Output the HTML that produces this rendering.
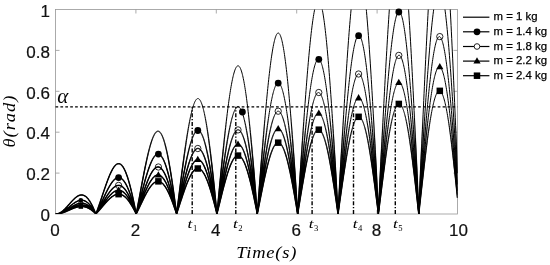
<!DOCTYPE html>
<html><head><meta charset="utf-8"><title>chart</title>
<style>
html,body{margin:0;padding:0;background:#fff}
body{width:550px;height:265px;overflow:hidden}
svg{display:block}
.tk{font-family:"Liberation Sans",sans-serif;font-size:17px;fill:#111;stroke:#111;stroke-width:0.2px}
.lg{font-family:"Liberation Sans",sans-serif;font-size:11px;fill:#000;stroke:#000;stroke-width:0.25px}
.sb{font-family:"Liberation Serif",serif;font-size:8.6px;fill:#000}
.it{font-family:"Liberation Serif","DejaVu Serif",serif;font-style:italic;fill:#000}
</style></head><body>
<svg width="550" height="265" viewBox="0 0 550 265">
<rect width="550" height="265" fill="#fff"/>
<defs><linearGradient id="gr" gradientUnits="userSpaceOnUse" x1="0" y1="111.8" x2="0" y2="169.0"><stop offset="0" stop-color="#000"/><stop offset="1" stop-color="#fff"/></linearGradient><mask id="mk" maskUnits="userSpaceOnUse" x="0" y="0" width="550" height="265"><rect width="550" height="265" fill="url(#gr)"/></mask><clipPath id="c"><rect x="55.5" y="9.5" width="402.0" height="204.5"/></clipPath></defs>
<g stroke="#969696" stroke-width="0.8" fill="none">
<rect x="55.5" y="9.5" width="402.0" height="204.5"/>
<path d="M135.9 214.0v-4M135.9 9.5v4"/>
<path d="M216.3 214.0v-4M216.3 9.5v4"/>
<path d="M296.7 214.0v-4M296.7 9.5v4"/>
<path d="M377.1 214.0v-4M377.1 9.5v4"/>
<path d="M55.5 173.1h4M457.5 173.1h-4"/>
<path d="M55.5 132.2h4M457.5 132.2h-4"/>
<path d="M55.5 91.3h4M457.5 91.3h-4"/>
<path d="M55.5 50.4h4M457.5 50.4h-4"/>
</g>
<g clip-path="url(#c)" stroke="#000" stroke-width="1.0" fill="none" stroke-linejoin="miter">
<path id="cv" d="M55.50 214.00L55.82 213.99L56.14 213.97L56.46 213.94L56.79 213.90L57.11 213.84L57.43 213.76L57.75 213.68L58.07 213.58L58.39 213.47L58.72 213.35L59.04 213.22L59.36 213.07L59.68 212.91L60.00 212.74L60.32 212.56L60.65 212.37L60.97 212.16L61.29 211.95L61.61 211.72L61.93 211.49L62.25 211.24L62.58 210.99L62.90 210.72L63.22 210.45L63.54 210.17L63.86 209.88L64.18 209.58L64.50 209.27L64.83 208.96L65.15 208.64L65.47 208.32L65.79 207.99L66.11 207.65L66.43 207.31L66.76 206.96L67.08 206.61L67.40 206.26L67.72 205.90L68.04 205.54L68.36 205.18L68.69 204.82L69.01 204.46L69.33 204.09L69.65 203.73L69.97 203.36L70.29 203.00L70.62 202.64L70.94 202.28L71.26 201.93L71.58 201.57L71.90 201.22L72.22 200.88L72.54 200.54L72.87 200.20L73.19 199.87L73.51 199.55L73.83 199.23L74.15 198.93L74.47 198.62L74.80 198.33L75.12 198.05L75.44 197.77L75.76 197.51L76.08 197.26L76.40 197.01L76.73 196.78L77.05 196.56L77.37 196.35L77.69 196.16L78.01 195.98L78.33 195.81L78.66 195.66L78.98 195.52L79.30 195.39L79.62 195.28L79.94 195.19L80.26 195.11L80.58 195.05L80.91 195.01L81.23 194.98L81.55 194.97L81.87 194.98L82.19 195.01L82.51 195.05L82.84 195.11L83.16 195.19L83.48 195.30L83.80 195.42L84.12 195.55L84.44 195.71L84.77 195.89L85.09 196.09L85.41 196.31L85.73 196.55L86.05 196.81L86.37 197.08L86.70 197.38L87.02 197.70L87.34 198.04L87.66 198.40L87.98 198.78L88.30 199.18L88.62 199.60L88.95 200.05L89.27 200.51L89.59 200.99L89.91 201.49L90.23 202.01L90.55 202.55L90.88 203.11L91.20 203.68L91.52 204.28L91.84 204.89L92.16 205.53L92.48 206.18L92.81 206.85L93.13 207.53L93.45 208.24L93.77 208.95L94.09 209.69L94.41 210.44L94.74 211.21L95.06 211.99L95.38 212.78L95.70 213.59L95.86 214.00L96.02 213.59L96.34 212.75L96.66 211.90L96.99 211.05L97.31 210.17L97.63 209.29L97.95 208.40L98.27 207.50L98.59 206.59L98.92 205.68L99.24 204.75L99.56 203.82L99.88 202.88L100.20 201.94L100.52 200.99L100.85 200.04L101.17 199.08L101.49 198.12L101.81 197.16L102.13 196.20L102.45 195.24L102.78 194.28L103.10 193.32L103.42 192.36L103.74 191.40L104.06 190.45L104.38 189.50L104.70 188.56L105.03 187.62L105.35 186.69L105.67 185.76L105.99 184.85L106.31 183.94L106.63 183.05L106.96 182.16L107.28 181.29L107.60 180.43L107.92 179.58L108.24 178.74L108.56 177.92L108.89 177.12L109.21 176.33L109.53 175.55L109.85 174.80L110.17 174.06L110.49 173.35L110.82 172.65L111.14 171.98L111.46 171.32L111.78 170.69L112.10 170.08L112.42 169.49L112.74 168.93L113.07 168.40L113.39 167.88L113.71 167.40L114.03 166.94L114.35 166.51L114.67 166.11L115.00 165.73L115.32 165.39L115.64 165.07L115.96 164.79L116.28 164.54L116.60 164.31L116.93 164.12L117.25 163.96L117.57 163.84L117.89 163.74L118.21 163.68L118.53 163.66L118.86 163.67L119.18 163.71L119.50 163.78L119.82 163.90L120.14 164.04L120.46 164.23L120.78 164.44L121.11 164.70L121.43 164.99L121.75 165.31L122.07 165.68L122.39 166.07L122.71 166.51L123.04 166.98L123.36 167.49L123.68 168.03L124.00 168.61L124.32 169.22L124.64 169.87L124.97 170.56L125.29 171.28L125.61 172.04L125.93 172.84L126.25 173.66L126.57 174.53L126.90 175.42L127.22 176.35L127.54 177.32L127.86 178.32L128.18 179.35L128.50 180.41L128.82 181.51L129.15 182.63L129.47 183.79L129.79 184.98L130.11 186.19L130.43 187.44L130.75 188.71L131.08 190.02L131.40 191.35L131.72 192.70L132.04 194.08L132.36 195.49L132.68 196.92L133.01 198.37L133.33 199.85L133.65 201.35L133.97 202.87L134.29 204.40L134.61 205.96L134.94 207.54L135.26 209.13L135.58 210.74L135.90 212.36L136.22 214.00L136.54 212.35L136.86 210.69L137.19 209.01L137.51 207.33L137.83 205.63L138.15 203.93L138.47 202.23L138.79 200.51L139.12 198.80L139.44 197.08L139.76 195.35L140.08 193.63L140.40 191.91L140.72 190.18L141.05 188.47L141.37 186.75L141.69 185.04L142.01 183.34L142.33 181.64L142.65 179.95L142.98 178.27L143.30 176.60L143.62 174.95L143.94 173.31L144.26 171.68L144.58 170.07L144.90 168.48L145.23 166.90L145.55 165.35L145.87 163.81L146.19 162.30L146.51 160.81L146.83 159.34L147.16 157.90L147.48 156.48L147.80 155.10L148.12 153.74L148.44 152.41L148.76 151.11L149.09 149.85L149.41 148.62L149.73 147.42L150.05 146.26L150.37 145.13L150.69 144.04L151.02 142.99L151.34 141.98L151.66 141.01L151.98 140.08L152.30 139.19L152.62 138.34L152.94 137.54L153.27 136.78L153.59 136.07L153.91 135.40L154.23 134.78L154.55 134.21L154.87 133.69L155.20 133.21L155.52 132.79L155.84 132.41L156.16 132.08L156.48 131.81L156.80 131.59L157.13 131.42L157.45 131.30L157.77 131.23L158.09 131.22L158.41 131.26L158.73 131.36L159.06 131.50L159.38 131.71L159.70 131.97L160.02 132.28L160.34 132.65L160.66 133.07L160.98 133.55L161.31 134.08L161.63 134.67L161.95 135.31L162.27 136.01L162.59 136.76L162.91 137.57L163.24 138.43L163.56 139.34L163.88 140.31L164.20 141.33L164.52 142.41L164.84 143.53L165.17 144.71L165.49 145.95L165.81 147.23L166.13 148.56L166.45 149.94L166.77 151.38L167.10 152.86L167.42 154.39L167.74 155.96L168.06 157.59L168.38 159.25L168.70 160.97L169.02 162.72L169.35 164.53L169.67 166.37L169.99 168.25L170.31 170.17L170.63 172.14L170.95 174.14L171.28 176.18L171.60 178.25L171.92 180.36L172.24 182.50L172.56 184.67L172.88 186.87L173.21 189.11L173.53 191.37L173.85 193.66L174.17 195.97L174.49 198.31L174.81 200.67L175.14 203.05L175.46 205.46L175.78 207.88L176.10 210.32L176.42 212.77L176.58 214.00L176.74 212.76L177.06 210.29L177.39 207.80L177.71 205.30L178.03 202.79L178.35 200.28L178.67 197.76L178.99 195.24L179.32 192.72L179.64 190.20L179.96 187.68L180.28 185.16L180.60 182.66L180.92 180.15L181.25 177.66L181.57 175.18L181.89 172.71L182.21 170.25L182.53 167.81L182.85 165.39L183.18 162.98L183.50 160.60L183.82 158.24L184.14 155.90L184.46 153.59L184.78 151.30L185.10 149.04L185.43 146.82L185.75 144.62L186.07 142.46L186.39 140.34L186.71 138.25L187.03 136.20L187.36 134.18L187.68 132.21L188.00 130.29L188.32 128.40L188.64 126.57L188.96 124.78L189.29 123.04L189.61 121.34L189.93 119.70L190.25 118.11L190.57 116.58L190.89 115.10L191.22 113.68L191.54 112.31L191.86 111.00L192.18 109.76L192.50 108.57L192.82 107.44L193.14 106.38L193.47 105.38L193.79 104.45L194.11 103.58L194.43 102.78L194.75 102.04L195.07 101.38L195.40 100.78L195.72 100.25L196.04 99.79L196.36 99.41L196.68 99.09L197.00 98.85L197.33 98.67L197.65 98.58L197.97 98.55L198.29 98.60L198.61 98.72L198.93 98.92L199.26 99.19L199.58 99.53L199.90 99.95L200.22 100.45L200.54 101.02L200.86 101.66L201.18 102.38L201.51 103.17L201.83 104.04L202.15 104.98L202.47 105.99L202.79 107.08L203.11 108.24L203.44 109.47L203.76 110.78L204.08 112.15L204.40 113.60L204.72 115.12L205.04 116.70L205.37 118.36L205.69 120.08L206.01 121.88L206.33 123.73L206.65 125.66L206.97 127.64L207.30 129.69L207.62 131.81L207.94 133.98L208.26 136.22L208.58 138.51L208.90 140.86L209.22 143.27L209.55 145.73L209.87 148.25L210.19 150.82L210.51 153.44L210.83 156.11L211.15 158.83L211.48 161.59L211.80 164.40L212.12 167.25L212.44 170.14L212.76 173.08L213.08 176.05L213.41 179.06L213.73 182.10L214.05 185.17L214.37 188.28L214.69 191.41L215.01 194.57L215.34 197.76L215.66 200.97L215.98 204.20L216.30 207.45L216.62 210.72L216.94 214.00L217.26 210.70L217.59 207.40L217.91 204.08L218.23 200.76L218.55 197.43L218.87 194.10L219.19 190.77L219.52 187.44L219.84 184.12L220.16 180.80L220.48 177.49L220.80 174.19L221.12 170.90L221.45 167.63L221.77 164.37L222.09 161.13L222.41 157.92L222.73 154.72L223.05 151.55L223.38 148.41L223.70 145.30L224.02 142.22L224.34 139.18L224.66 136.17L224.98 133.20L225.30 130.26L225.63 127.37L225.95 124.53L226.27 121.73L226.59 118.98L226.91 116.28L227.23 113.63L227.56 111.03L227.88 108.49L228.20 106.01L228.52 103.58L228.84 101.22L229.16 98.92L229.49 96.69L229.81 94.52L230.13 92.42L230.45 90.38L230.77 88.42L231.09 86.53L231.42 84.72L231.74 82.98L232.06 81.32L232.38 79.73L232.70 78.23L233.02 76.81L233.34 75.46L233.67 74.20L233.99 73.03L234.31 71.94L234.63 70.93L234.95 70.02L235.27 69.19L235.60 68.45L235.92 67.80L236.24 67.24L236.56 66.77L236.88 66.39L237.20 66.11L237.53 65.92L237.85 65.82L238.17 65.81L238.49 65.90L238.81 66.08L239.13 66.36L239.46 66.73L239.78 67.20L240.10 67.76L240.42 68.42L240.74 69.17L241.06 70.01L241.38 70.95L241.71 71.98L242.03 73.11L242.35 74.33L242.67 75.64L242.99 77.04L243.31 78.54L243.64 80.13L243.96 81.80L244.28 83.57L244.60 85.43L244.92 87.37L245.24 89.40L245.57 91.51L245.89 93.71L246.21 96.00L246.53 98.37L246.85 100.81L247.17 103.34L247.50 105.95L247.82 108.63L248.14 111.39L248.46 114.22L248.78 117.13L249.10 120.11L249.42 123.15L249.75 126.27L250.07 129.45L250.39 132.69L250.71 136.00L251.03 139.36L251.35 142.79L251.68 146.27L252.00 149.80L252.32 153.39L252.64 157.03L252.96 160.71L253.28 164.45L253.61 168.22L253.93 172.04L254.25 175.89L254.57 179.78L254.89 183.71L255.21 187.67L255.54 191.65L255.86 195.67L256.18 199.71L256.50 203.77L256.82 207.85L257.14 211.95L257.30 214.00L257.46 211.94L257.79 207.82L258.11 203.69L258.43 199.55L258.75 195.40L259.07 191.26L259.39 187.12L259.72 182.98L260.04 178.84L260.36 174.72L260.68 170.61L261.00 166.51L261.32 162.43L261.65 158.37L261.97 154.33L262.29 150.32L262.61 146.34L262.93 142.38L263.25 138.46L263.58 134.57L263.90 130.73L264.22 126.92L264.54 123.16L264.86 119.44L265.18 115.77L265.50 112.15L265.83 108.59L266.15 105.08L266.47 101.62L266.79 98.23L267.11 94.91L267.43 91.64L267.76 88.45L268.08 85.32L268.40 82.27L268.72 79.29L269.04 76.38L269.36 73.56L269.69 70.81L270.01 68.15L270.33 65.57L270.65 63.08L270.97 60.67L271.29 58.36L271.62 56.14L271.94 54.01L272.26 51.97L272.58 50.03L272.90 48.19L273.22 46.45L273.54 44.81L273.87 43.27L274.19 41.83L274.51 40.50L274.83 39.27L275.15 38.15L275.47 37.14L275.80 36.24L276.12 35.45L276.44 34.77L276.76 34.19L277.08 33.74L277.40 33.39L277.73 33.16L278.05 33.04L278.37 33.03L278.69 33.14L279.01 33.36L279.33 33.70L279.66 34.15L279.98 34.72L280.30 35.40L280.62 36.20L280.94 37.11L281.26 38.14L281.58 39.28L281.91 40.53L282.23 41.90L282.55 43.38L282.87 44.97L283.19 46.67L283.51 48.48L283.84 50.40L284.16 52.44L284.48 54.58L284.80 56.82L285.12 59.17L285.44 61.63L285.77 64.19L286.09 66.85L286.41 69.61L286.73 72.47L287.05 75.42L287.37 78.48L287.70 81.62L288.02 84.86L288.34 88.19L288.66 91.61L288.98 95.12L289.30 98.70L289.62 102.38L289.95 106.13L290.27 109.96L290.59 113.87L290.91 117.85L291.23 121.90L291.55 126.02L291.88 130.21L292.20 134.47L292.52 138.78L292.84 143.16L293.16 147.59L293.48 152.07L293.81 156.61L294.13 161.19L294.45 165.82L294.77 170.49L295.09 175.21L295.41 179.96L295.74 184.74L296.06 189.56L296.38 194.40L296.70 199.27L297.02 204.16L297.34 209.07L297.66 214.00L297.99 209.06L298.31 204.11L298.63 199.15L298.95 194.19L299.27 189.23L299.59 184.27L299.92 179.32L300.24 174.37L300.56 169.44L300.88 164.52L301.20 159.63L301.52 154.75L301.85 149.90L302.17 145.07L302.49 140.28L302.81 135.52L303.13 130.79L303.45 126.11L303.78 121.47L304.10 116.88L304.42 112.33L304.74 107.84L305.06 103.41L305.38 99.03L305.70 94.71L306.03 90.46L306.35 86.27L306.67 82.16L306.99 78.11L307.31 74.15L307.63 70.26L307.96 66.45L308.28 62.72L308.60 59.08L308.92 55.53L309.24 52.07L309.56 48.70L309.89 45.43L310.21 42.26L310.53 39.18L310.85 36.21L311.17 33.35L311.49 30.59L311.82 27.94L312.14 25.40L312.46 22.97L312.78 20.66L313.10 18.46L313.42 16.38L313.74 14.42L314.07 12.58L314.39 10.87L314.71 9.27L315.03 7.81L315.35 6.47L315.67 5.25L316.00 4.17L316.32 3.21L316.64 2.39L316.96 1.69L317.28 1.13L317.60 0.70L317.93 0.41L318.25 0.25L318.57 0.22L318.89 0.33L319.21 0.57L319.53 0.95L319.86 1.46L320.18 2.11L320.50 2.89L320.82 3.81L321.14 4.86L321.46 6.05L321.78 7.37L322.11 8.83L322.43 10.42L322.75 12.14L323.07 13.99L323.39 15.97L323.71 18.08L324.04 20.32L324.36 22.69L324.68 25.18L325.00 27.80L325.32 30.54L325.64 33.41L325.97 36.39L326.29 39.49L326.61 42.72L326.93 46.05L327.25 49.50L327.57 53.06L327.90 56.74L328.22 60.52L328.54 64.40L328.86 68.39L329.18 72.48L329.50 76.67L329.82 80.96L330.15 85.34L330.47 89.81L330.79 94.37L331.11 99.01L331.43 103.74L331.75 108.55L332.08 113.44L332.40 118.40L332.72 123.43L333.04 128.53L333.36 133.70L333.68 138.93L334.01 144.22L334.33 149.57L334.65 154.97L334.97 160.41L335.29 165.91L335.61 171.45L335.94 177.02L336.26 182.64L336.58 188.28L336.90 193.96L337.22 199.66L337.54 205.38L337.86 211.12L338.03 214.00L338.19 211.12L338.51 205.35L338.83 199.58L339.15 193.80L339.47 188.02L339.79 182.24L340.12 176.47L340.44 170.71L340.76 164.97L341.08 159.24L341.40 153.54L341.72 147.86L342.05 142.21L342.37 136.59L342.69 131.01L343.01 125.46L343.33 119.96L343.65 114.51L343.98 109.11L344.30 103.76L344.62 98.47L344.94 93.24L345.26 88.08L345.58 82.98L345.90 77.95L346.23 73.00L346.55 68.13L346.87 63.34L347.19 58.63L347.51 54.01L347.83 49.48L348.16 45.04L348.48 40.70L348.80 36.46L349.12 32.32L349.44 28.29L349.76 24.36L350.09 20.55L350.41 16.85L350.73 13.27L351.05 9.80L351.37 6.46L351.69 3.24L352.02 0.14L352.34 -2.83L352.66 -5.67L352.98 -8.37L353.30 -10.94L353.62 -13.38L353.94 -15.67L354.27 -17.83L354.59 -19.85L354.91 -21.72L355.23 -23.45L355.55 -25.03L355.87 -26.47L356.20 -27.76L356.52 -28.89L356.84 -29.88L357.16 -30.72L357.48 -31.40L357.80 -31.93L358.13 -32.31L358.45 -32.53L358.77 -32.60L359.09 -32.52L359.41 -32.27L359.73 -31.88L360.06 -31.32L360.38 -30.61L360.70 -29.75L361.02 -28.73L361.34 -27.56L361.66 -26.23L361.98 -24.74L362.31 -23.11L362.63 -21.32L362.95 -19.38L363.27 -17.29L363.59 -15.04L363.91 -12.65L364.24 -10.11L364.56 -7.43L364.88 -4.60L365.20 -1.63L365.52 1.49L365.84 4.74L366.17 8.14L366.49 11.67L366.81 15.33L367.13 19.13L367.45 23.06L367.77 27.12L368.10 31.30L368.42 35.60L368.74 40.03L369.06 44.58L369.38 49.24L369.70 54.01L370.02 58.90L370.35 63.89L370.67 68.99L370.99 74.19L371.31 79.49L371.63 84.88L371.95 90.37L372.28 95.94L372.60 101.60L372.92 107.34L373.24 113.16L373.56 119.06L373.88 125.03L374.21 131.07L374.53 137.17L374.85 143.33L375.17 149.55L375.49 155.82L375.81 162.14L376.14 168.50L376.46 174.91L376.78 181.36L377.10 187.83L377.42 194.34L377.74 200.87L378.06 207.43L378.39 214.00L378.71 207.42L379.03 200.82L379.35 194.22L379.67 187.62L379.99 181.03L380.32 174.44L380.64 167.86L380.96 161.30L381.28 154.76L381.60 148.25L381.92 141.76L382.25 135.31L382.57 128.89L382.89 122.51L383.21 116.18L383.53 109.90L383.85 103.67L384.18 97.50L384.50 91.39L384.82 85.34L385.14 79.36L385.46 73.46L385.78 67.63L386.10 61.89L386.43 56.23L386.75 50.65L387.07 45.17L387.39 39.78L387.71 34.50L388.03 29.31L388.36 24.24L388.68 19.27L389.00 14.41L389.32 9.67L389.64 5.05L389.96 0.56L390.29 -3.82L390.61 -8.06L390.93 -12.17L391.25 -16.15L391.57 -19.99L391.89 -23.69L392.22 -27.25L392.54 -30.66L392.86 -33.92L393.18 -37.04L393.50 -40.00L393.82 -42.81L394.14 -45.47L394.47 -47.96L394.79 -50.30L395.11 -52.47L395.43 -54.48L395.75 -56.33L396.07 -58.00L396.40 -59.51L396.72 -60.86L397.04 -62.03L397.36 -63.03L397.68 -63.85L398.00 -64.51L398.33 -64.99L398.65 -65.29L398.97 -65.42L399.29 -65.38L399.61 -65.16L399.93 -64.76L400.26 -64.19L400.58 -63.44L400.90 -62.51L401.22 -61.41L401.54 -60.14L401.86 -58.69L402.18 -57.06L402.51 -55.26L402.83 -53.29L403.15 -51.15L403.47 -48.84L403.79 -46.35L404.11 -43.70L404.44 -40.88L404.76 -37.90L405.08 -34.75L405.40 -31.44L405.72 -27.97L406.04 -24.34L406.37 -20.56L406.69 -16.62L407.01 -12.53L407.33 -8.28L407.65 -3.89L407.97 0.64L408.30 5.32L408.62 10.13L408.94 15.09L409.26 20.18L409.58 25.39L409.90 30.74L410.22 36.21L410.55 41.81L410.87 47.52L411.19 53.35L411.51 59.29L411.83 65.33L412.15 71.48L412.48 77.74L412.80 84.09L413.12 90.53L413.44 97.06L413.76 103.67L414.08 110.37L414.41 117.15L414.73 124.00L415.05 130.91L415.37 137.89L415.69 144.94L416.01 152.03L416.34 159.18L416.66 166.38L416.98 173.62L417.30 180.90L417.62 188.21L417.94 195.55L418.26 202.92L418.59 210.30L418.75 214.00L418.91 210.30L419.23 202.89L419.55 195.47L419.87 188.05L420.19 180.63L420.52 173.22L420.84 165.83L421.16 158.45L421.48 151.09L421.80 143.76L422.12 136.47L422.45 129.20L422.77 121.98L423.09 114.80L423.41 107.68L423.73 100.60L424.05 93.59L424.38 86.64L424.70 79.76L425.02 72.95L425.34 66.22L425.66 59.56L425.98 53.00L426.30 46.52L426.63 40.14L426.95 33.85L427.27 27.67L427.59 21.60L427.91 15.63L428.23 9.78L428.56 4.05L428.88 -1.56L429.20 -7.05L429.52 -12.40L429.84 -17.63L430.16 -22.71L430.49 -27.66L430.81 -32.46L431.13 -37.11L431.45 -41.62L431.77 -45.97L432.09 -50.17L432.42 -54.20L432.74 -58.08L433.06 -61.79L433.38 -65.34L433.70 -68.71L434.02 -71.91L434.34 -74.94L434.67 -77.79L434.99 -80.47L435.31 -82.96L435.63 -85.27L435.95 -87.40L436.27 -89.34L436.60 -91.09L436.92 -92.66L437.24 -94.03L437.56 -95.21L437.88 -96.20L438.20 -97.00L438.53 -97.60L438.85 -98.01L439.17 -98.22L439.49 -98.24L439.81 -98.06L440.13 -97.69L440.46 -97.11L440.78 -96.35L441.10 -95.38L441.42 -94.22L441.74 -92.86L442.06 -91.31L442.38 -89.56L442.71 -87.62L443.03 -85.49L443.35 -83.17L443.67 -80.65L443.99 -77.95L444.31 -75.05L444.64 -71.97L444.96 -68.71L445.28 -65.26L445.60 -61.64L445.92 -57.83L446.24 -53.84L446.57 -49.68L446.89 -45.35L447.21 -40.85L447.53 -36.18L447.85 -31.35L448.17 -26.35L448.50 -21.19L448.82 -15.88L449.14 -10.42L449.46 -4.80L449.78 0.96L450.10 6.87L450.42 12.91L450.75 19.09L451.07 25.41L451.39 31.85L451.71 38.42L452.03 45.11L452.35 51.91L452.68 58.83L453.00 65.86L453.32 72.99L453.64 80.22L453.96 87.55L454.28 94.97L454.61 102.47L454.93 110.06L455.25 117.73L455.57 125.46L455.89 133.27L456.21 141.14L456.54 149.07L456.86 157.05L457.18 165.08L457.50 173.15M55.50 214.00L55.82 214.00L56.14 213.98L56.46 213.96L56.79 213.92L57.11 213.88L57.43 213.83L57.75 213.77L58.07 213.70L58.39 213.62L58.72 213.53L59.04 213.43L59.36 213.33L59.68 213.21L60.00 213.09L60.32 212.96L60.65 212.82L60.97 212.67L61.29 212.51L61.61 212.35L61.93 212.18L62.25 212.00L62.58 211.82L62.90 211.63L63.22 211.43L63.54 211.23L63.86 211.02L64.18 210.80L64.50 210.58L64.83 210.35L65.15 210.12L65.47 209.89L65.79 209.65L66.11 209.40L66.43 209.16L66.76 208.91L67.08 208.65L67.40 208.40L67.72 208.14L68.04 207.88L68.36 207.62L68.69 207.36L69.01 207.09L69.33 206.83L69.65 206.57L69.97 206.30L70.29 206.04L70.62 205.78L70.94 205.52L71.26 205.26L71.58 205.01L71.90 204.75L72.22 204.50L72.54 204.26L72.87 204.01L73.19 203.78L73.51 203.54L73.83 203.31L74.15 203.09L74.47 202.87L74.80 202.66L75.12 202.45L75.44 202.26L75.76 202.06L76.08 201.88L76.40 201.71L76.73 201.54L77.05 201.38L77.37 201.23L77.69 201.09L78.01 200.96L78.33 200.83L78.66 200.72L78.98 200.62L79.30 200.53L79.62 200.45L79.94 200.39L80.26 200.33L80.58 200.29L80.91 200.25L81.23 200.24L81.55 200.23L81.87 200.23L82.19 200.25L82.51 200.29L82.84 200.33L83.16 200.39L83.48 200.46L83.80 200.55L84.12 200.65L84.44 200.77L84.77 200.89L85.09 201.04L85.41 201.20L85.73 201.37L86.05 201.56L86.37 201.76L86.70 201.97L87.02 202.21L87.34 202.45L87.66 202.71L87.98 202.99L88.30 203.28L88.62 203.58L88.95 203.90L89.27 204.23L89.59 204.58L89.91 204.94L90.23 205.32L90.55 205.71L90.88 206.12L91.20 206.53L91.52 206.97L91.84 207.41L92.16 207.87L92.48 208.34L92.81 208.82L93.13 209.32L93.45 209.83L93.77 210.35L94.09 210.88L94.41 211.42L94.74 211.98L95.06 212.54L95.38 213.12L95.70 213.70L95.86 214.00L96.02 213.70L96.34 213.10L96.66 212.48L96.99 211.86L97.31 211.23L97.63 210.59L97.95 209.95L98.27 209.30L98.59 208.64L98.92 207.98L99.24 207.31L99.56 206.63L99.88 205.95L100.20 205.27L100.52 204.58L100.85 203.89L101.17 203.20L101.49 202.51L101.81 201.81L102.13 201.12L102.45 200.42L102.78 199.72L103.10 199.03L103.42 198.34L103.74 197.64L104.06 196.95L104.38 196.27L104.70 195.59L105.03 194.91L105.35 194.23L105.67 193.56L105.99 192.90L106.31 192.25L106.63 191.60L106.96 190.96L107.28 190.32L107.60 189.70L107.92 189.09L108.24 188.48L108.56 187.89L108.89 187.30L109.21 186.73L109.53 186.17L109.85 185.63L110.17 185.10L110.49 184.58L110.82 184.07L111.14 183.58L111.46 183.11L111.78 182.65L112.10 182.21L112.42 181.79L112.74 181.38L113.07 180.99L113.39 180.62L113.71 180.27L114.03 179.94L114.35 179.63L114.67 179.34L115.00 179.07L115.32 178.82L115.64 178.59L115.96 178.38L116.28 178.20L116.60 178.04L116.93 177.90L117.25 177.79L117.57 177.69L117.89 177.63L118.21 177.58L118.53 177.56L118.86 177.57L119.18 177.60L119.50 177.66L119.82 177.74L120.14 177.84L120.46 177.98L120.78 178.13L121.11 178.32L121.43 178.53L121.75 178.76L122.07 179.03L122.39 179.31L122.71 179.63L123.04 179.97L123.36 180.34L123.68 180.73L124.00 181.15L124.32 181.59L124.64 182.06L124.97 182.56L125.29 183.08L125.61 183.63L125.93 184.21L126.25 184.81L126.57 185.43L126.90 186.08L127.22 186.75L127.54 187.45L127.86 188.17L128.18 188.92L128.50 189.69L128.82 190.48L129.15 191.30L129.47 192.13L129.79 192.99L130.11 193.87L130.43 194.78L130.75 195.70L131.08 196.64L131.40 197.60L131.72 198.58L132.04 199.58L132.36 200.60L132.68 201.64L133.01 202.69L133.33 203.76L133.65 204.84L133.97 205.94L134.29 207.05L134.61 208.18L134.94 209.32L135.26 210.47L135.58 211.64L135.90 212.81L136.22 214.00L136.54 212.81L136.86 211.60L137.19 210.39L137.51 209.17L137.83 207.95L138.15 206.71L138.47 205.48L138.79 204.24L139.12 203.00L139.44 201.75L139.76 200.50L140.08 199.26L140.40 198.01L140.72 196.76L141.05 195.52L141.37 194.28L141.69 193.04L142.01 191.81L142.33 190.58L142.65 189.36L142.98 188.14L143.30 186.94L143.62 185.74L143.94 184.55L144.26 183.37L144.58 182.21L144.90 181.05L145.23 179.91L145.55 178.79L145.87 177.67L146.19 176.58L146.51 175.50L146.83 174.44L147.16 173.40L147.48 172.37L147.80 171.37L148.12 170.39L148.44 169.43L148.76 168.49L149.09 167.57L149.41 166.68L149.73 165.81L150.05 164.97L150.37 164.16L150.69 163.37L151.02 162.61L151.34 161.88L151.66 161.17L151.98 160.50L152.30 159.86L152.62 159.24L152.94 158.66L153.27 158.11L153.59 157.60L153.91 157.12L154.23 156.67L154.55 156.25L154.87 155.87L155.20 155.53L155.52 155.22L155.84 154.95L156.16 154.71L156.48 154.51L156.80 154.35L157.13 154.23L157.45 154.14L157.77 154.10L158.09 154.09L158.41 154.12L158.73 154.19L159.06 154.29L159.38 154.44L159.70 154.63L160.02 154.85L160.34 155.12L160.66 155.43L160.98 155.77L161.31 156.16L161.63 156.58L161.95 157.05L162.27 157.55L162.59 158.10L162.91 158.68L163.24 159.30L163.56 159.97L163.88 160.67L164.20 161.41L164.52 162.18L164.84 163.00L165.17 163.85L165.49 164.75L165.81 165.67L166.13 166.64L166.45 167.64L166.77 168.68L167.10 169.75L167.42 170.85L167.74 172.00L168.06 173.17L168.38 174.38L168.70 175.62L169.02 176.89L169.35 178.19L169.67 179.53L169.99 180.89L170.31 182.28L170.63 183.70L170.95 185.15L171.28 186.62L171.60 188.12L171.92 189.65L172.24 191.20L172.56 192.77L172.88 194.37L173.21 195.98L173.53 197.62L173.85 199.28L174.17 200.95L174.49 202.64L174.81 204.35L175.14 206.08L175.46 207.82L175.78 209.57L176.10 211.33L176.42 213.11L176.58 214.00L176.74 213.11L177.06 211.31L177.39 209.51L177.71 207.70L178.03 205.89L178.35 204.07L178.67 202.25L178.99 200.42L179.32 198.60L179.64 196.77L179.96 194.95L180.28 193.13L180.60 191.31L180.92 189.50L181.25 187.70L181.57 185.90L181.89 184.11L182.21 182.34L182.53 180.57L182.85 178.82L183.18 177.08L183.50 175.35L183.82 173.64L184.14 171.95L184.46 170.27L184.78 168.62L185.10 166.99L185.43 165.38L185.75 163.79L186.07 162.22L186.39 160.69L186.71 159.17L187.03 157.69L187.36 156.23L187.68 154.81L188.00 153.41L188.32 152.05L188.64 150.72L188.96 149.43L189.29 148.16L189.61 146.94L189.93 145.75L190.25 144.60L190.57 143.49L190.89 142.42L191.22 141.39L191.54 140.40L191.86 139.46L192.18 138.55L192.50 137.69L192.82 136.88L193.14 136.11L193.47 135.39L193.79 134.71L194.11 134.08L194.43 133.50L194.75 132.97L195.07 132.49L195.40 132.06L195.72 131.67L196.04 131.34L196.36 131.06L196.68 130.83L197.00 130.66L197.33 130.53L197.65 130.46L197.97 130.44L198.29 130.48L198.61 130.57L198.93 130.71L199.26 130.91L199.58 131.15L199.90 131.46L200.22 131.82L200.54 132.23L200.86 132.69L201.18 133.21L201.51 133.79L201.83 134.41L202.15 135.09L202.47 135.83L202.79 136.62L203.11 137.46L203.44 138.35L203.76 139.29L204.08 140.29L204.40 141.34L204.72 142.43L205.04 143.58L205.37 144.78L205.69 146.03L206.01 147.33L206.33 148.67L206.65 150.06L206.97 151.50L207.30 152.98L207.62 154.51L207.94 156.09L208.26 157.70L208.58 159.36L208.90 161.07L209.22 162.81L209.55 164.59L209.87 166.41L210.19 168.27L210.51 170.17L210.83 172.10L211.15 174.07L211.48 176.07L211.80 178.10L212.12 180.17L212.44 182.26L212.76 184.38L213.08 186.53L213.41 188.71L213.73 190.91L214.05 193.14L214.37 195.38L214.69 197.65L215.01 199.94L215.34 202.25L215.66 204.57L215.98 206.91L216.30 209.26L216.62 211.62L216.94 214.00L217.26 211.61L217.59 209.22L217.91 206.82L218.23 204.42L218.55 202.01L218.87 199.60L219.19 197.19L219.52 194.78L219.84 192.37L220.16 189.97L220.48 187.58L220.80 185.19L221.12 182.81L221.45 180.44L221.77 178.08L222.09 175.74L222.41 173.41L222.73 171.10L223.05 168.81L223.38 166.53L223.70 164.28L224.02 162.05L224.34 159.85L224.66 157.67L224.98 155.52L225.30 153.40L225.63 151.30L225.95 149.25L226.27 147.22L226.59 145.23L226.91 143.27L227.23 141.35L227.56 139.48L227.88 137.64L228.20 135.84L228.52 134.09L228.84 132.38L229.16 130.71L229.49 129.09L229.81 127.52L230.13 126.00L230.45 124.53L230.77 123.11L231.09 121.75L231.42 120.43L231.74 119.18L232.06 117.97L232.38 116.83L232.70 115.74L233.02 114.71L233.34 113.73L233.67 112.82L233.99 111.97L234.31 111.18L234.63 110.46L234.95 109.79L235.27 109.19L235.60 108.66L235.92 108.19L236.24 107.78L236.56 107.44L236.88 107.17L237.20 106.96L237.53 106.82L237.85 106.75L238.17 106.75L238.49 106.81L238.81 106.95L239.13 107.15L239.46 107.42L239.78 107.75L240.10 108.16L240.42 108.63L240.74 109.18L241.06 109.79L241.38 110.47L241.71 111.21L242.03 112.03L242.35 112.91L242.67 113.86L242.99 114.88L243.31 115.96L243.64 117.11L243.96 118.32L244.28 119.60L244.60 120.94L244.92 122.35L245.24 123.82L245.57 125.35L245.89 126.94L246.21 128.60L246.53 130.31L246.85 132.08L247.17 133.91L247.50 135.80L247.82 137.74L248.14 139.74L248.46 141.79L248.78 143.89L249.10 146.04L249.42 148.25L249.75 150.50L250.07 152.80L250.39 155.15L250.71 157.54L251.03 159.98L251.35 162.46L251.68 164.98L252.00 167.54L252.32 170.13L252.64 172.77L252.96 175.43L253.28 178.13L253.61 180.87L253.93 183.63L254.25 186.42L254.57 189.24L254.89 192.08L255.21 194.94L255.54 197.83L255.86 200.73L256.18 203.66L256.50 206.59L256.82 209.55L257.14 212.51L257.30 214.00L257.46 212.51L257.79 209.53L258.11 206.54L258.43 203.54L258.75 200.54L259.07 197.54L259.39 194.54L259.72 191.55L260.04 188.56L260.36 185.57L260.68 182.60L261.00 179.63L261.32 176.68L261.65 173.74L261.97 170.82L262.29 167.91L262.61 165.03L262.93 162.17L263.25 159.33L263.58 156.52L263.90 153.73L264.22 150.98L264.54 148.25L264.86 145.56L265.18 142.91L265.50 140.29L265.83 137.71L266.15 135.17L266.47 132.67L266.79 130.21L267.11 127.81L267.43 125.44L267.76 123.13L268.08 120.87L268.40 118.66L268.72 116.50L269.04 114.40L269.36 112.36L269.69 110.37L270.01 108.44L270.33 106.58L270.65 104.77L270.97 103.03L271.29 101.36L271.62 99.75L271.94 98.20L272.26 96.73L272.58 95.33L272.90 93.99L273.22 92.73L273.54 91.55L273.87 90.43L274.19 89.39L274.51 88.43L274.83 87.54L275.15 86.73L275.47 86.00L275.80 85.35L276.12 84.77L276.44 84.28L276.76 83.87L277.08 83.53L277.40 83.28L277.73 83.11L278.05 83.03L278.37 83.02L278.69 83.10L279.01 83.26L279.33 83.51L279.66 83.83L279.98 84.25L280.30 84.74L280.62 85.32L280.94 85.98L281.26 86.72L281.58 87.54L281.91 88.45L282.23 89.44L282.55 90.51L282.87 91.66L283.19 92.89L283.51 94.21L283.84 95.60L284.16 97.07L284.48 98.62L284.80 100.24L285.12 101.94L285.44 103.72L285.77 105.57L286.09 107.50L286.41 109.50L286.73 111.57L287.05 113.71L287.37 115.92L287.70 118.19L288.02 120.54L288.34 122.95L288.66 125.42L288.98 127.96L289.30 130.56L289.62 133.21L289.95 135.93L290.27 138.70L290.59 141.53L290.91 144.41L291.23 147.34L291.55 150.33L291.88 153.36L292.20 156.44L292.52 159.56L292.84 162.73L293.16 165.93L293.48 169.18L293.81 172.46L294.13 175.78L294.45 179.13L294.77 182.51L295.09 185.92L295.41 189.36L295.74 192.82L296.06 196.31L296.38 199.82L296.70 203.34L297.02 206.88L297.34 210.43L297.66 214.00L297.99 210.42L298.31 206.84L298.63 203.25L298.95 199.66L299.27 196.07L299.59 192.48L299.92 188.90L300.24 185.32L300.56 181.75L300.88 178.19L301.20 174.65L301.52 171.12L301.85 167.60L302.17 164.11L302.49 160.64L302.81 157.20L303.13 153.78L303.45 150.39L303.78 147.03L304.10 143.71L304.42 140.42L304.74 137.17L305.06 133.96L305.38 130.79L305.70 127.66L306.03 124.59L306.35 121.56L306.67 118.58L306.99 115.65L307.31 112.78L307.63 109.97L307.96 107.21L308.28 104.51L308.60 101.88L308.92 99.31L309.24 96.80L309.56 94.37L309.89 92.00L310.21 89.70L310.53 87.48L310.85 85.33L311.17 83.25L311.49 81.26L311.82 79.34L312.14 77.50L312.46 75.74L312.78 74.07L313.10 72.48L313.42 70.97L313.74 69.56L314.07 68.22L314.39 66.98L314.71 65.83L315.03 64.77L315.35 63.80L315.67 62.92L316.00 62.13L316.32 61.44L316.64 60.84L316.96 60.34L317.28 59.94L317.60 59.63L317.93 59.41L318.25 59.30L318.57 59.28L318.89 59.35L319.21 59.53L319.53 59.80L319.86 60.18L320.18 60.64L320.50 61.21L320.82 61.88L321.14 62.64L321.46 63.50L321.78 64.45L322.11 65.51L322.43 66.66L322.75 67.90L323.07 69.24L323.39 70.67L323.71 72.20L324.04 73.82L324.36 75.54L324.68 77.34L325.00 79.24L325.32 81.22L325.64 83.29L325.97 85.45L326.29 87.70L326.61 90.03L326.93 92.45L327.25 94.94L327.57 97.52L327.90 100.18L328.22 102.92L328.54 105.73L328.86 108.62L329.18 111.58L329.50 114.61L329.82 117.71L330.15 120.88L330.47 124.11L330.79 127.41L331.11 130.78L331.43 134.20L331.75 137.68L332.08 141.22L332.40 144.81L332.72 148.45L333.04 152.14L333.36 155.88L333.68 159.67L334.01 163.50L334.33 167.37L334.65 171.27L334.97 175.22L335.29 179.19L335.61 183.20L335.94 187.24L336.26 191.30L336.58 195.39L336.90 199.49L337.22 203.62L337.54 207.76L337.86 211.92L338.03 214.00L338.19 211.92L338.51 207.74L338.83 203.56L339.15 199.38L339.47 195.20L339.79 191.02L340.12 186.84L340.44 182.67L340.76 178.51L341.08 174.37L341.40 170.24L341.72 166.13L342.05 162.04L342.37 157.97L342.69 153.93L343.01 149.92L343.33 145.94L343.65 141.99L343.98 138.09L344.30 134.21L344.62 130.39L344.94 126.60L345.26 122.86L345.58 119.17L345.90 115.54L346.23 111.95L346.55 108.43L346.87 104.96L347.19 101.55L347.51 98.20L347.83 94.93L348.16 91.72L348.48 88.57L348.80 85.51L349.12 82.51L349.44 79.59L349.76 76.75L350.09 73.99L350.41 71.31L350.73 68.72L351.05 66.21L351.37 63.79L351.69 61.46L352.02 59.22L352.34 57.07L352.66 55.02L352.98 53.06L353.30 51.20L353.62 49.44L353.94 47.77L354.27 46.21L354.59 44.75L354.91 43.40L355.23 42.15L355.55 41.00L355.87 39.96L356.20 39.03L356.52 38.21L356.84 37.49L357.16 36.88L357.48 36.39L357.80 36.01L358.13 35.73L358.45 35.57L358.77 35.52L359.09 35.58L359.41 35.76L359.73 36.05L360.06 36.45L360.38 36.96L360.70 37.59L361.02 38.32L361.34 39.17L361.66 40.14L361.98 41.21L362.31 42.39L362.63 43.69L362.95 45.09L363.27 46.61L363.59 48.23L363.91 49.96L364.24 51.80L364.56 53.74L364.88 55.79L365.20 57.94L365.52 60.19L365.84 62.55L366.17 65.01L366.49 67.56L366.81 70.21L367.13 72.96L367.45 75.81L367.77 78.74L368.10 81.77L368.42 84.89L368.74 88.09L369.06 91.38L369.38 94.75L369.70 98.21L370.02 101.75L370.35 105.36L370.67 109.05L370.99 112.81L371.31 116.65L371.63 120.55L371.95 124.52L372.28 128.55L372.60 132.65L372.92 136.81L373.24 141.02L373.56 145.29L373.88 149.61L374.21 153.98L374.53 158.39L374.85 162.85L375.17 167.35L375.49 171.89L375.81 176.46L376.14 181.07L376.46 185.71L376.78 190.37L377.10 195.06L377.42 199.77L377.74 204.50L378.06 209.24L378.39 214.00L378.71 209.23L379.03 204.46L379.35 199.69L379.67 194.91L379.99 190.14L380.32 185.37L380.64 180.61L380.96 175.86L381.28 171.13L381.60 166.41L381.92 161.72L382.25 157.05L382.57 152.40L382.89 147.79L383.21 143.20L383.53 138.66L383.85 134.15L384.18 129.68L384.50 125.26L384.82 120.88L385.14 116.56L385.46 112.28L385.78 108.07L386.10 103.91L386.43 99.81L386.75 95.78L387.07 91.81L387.39 87.91L387.71 84.09L388.03 80.33L388.36 76.66L388.68 73.06L389.00 69.55L389.32 66.12L389.64 62.77L389.96 59.52L390.29 56.36L390.61 53.29L390.93 50.31L391.25 47.43L391.57 44.65L391.89 41.97L392.22 39.40L392.54 36.93L392.86 34.57L393.18 32.31L393.50 30.17L393.82 28.13L394.14 26.21L394.47 24.41L394.79 22.72L395.11 21.14L395.43 19.69L395.75 18.35L396.07 17.14L396.40 16.04L396.72 15.07L397.04 14.23L397.36 13.50L397.68 12.90L398.00 12.43L398.33 12.08L398.65 11.86L398.97 11.77L399.29 11.80L399.61 11.96L399.93 12.25L400.26 12.66L400.58 13.20L400.90 13.87L401.22 14.67L401.54 15.59L401.86 16.64L402.18 17.82L402.51 19.12L402.83 20.55L403.15 22.10L403.47 23.77L403.79 25.57L404.11 27.49L404.44 29.53L404.76 31.69L405.08 33.97L405.40 36.36L405.72 38.87L406.04 41.50L406.37 44.24L406.69 47.09L407.01 50.05L407.33 53.12L407.65 56.30L407.97 59.58L408.30 62.97L408.62 66.45L408.94 70.04L409.26 73.72L409.58 77.50L409.90 81.37L410.22 85.33L410.55 89.38L410.87 93.51L411.19 97.73L411.51 102.03L411.83 106.40L412.15 110.85L412.48 115.38L412.80 119.97L413.12 124.64L413.44 129.36L413.76 134.15L414.08 139.00L414.41 143.90L414.73 148.86L415.05 153.87L415.37 158.92L415.69 164.02L416.01 169.15L416.34 174.33L416.66 179.54L416.98 184.78L417.30 190.04L417.62 195.33L417.94 200.65L418.26 205.98L418.59 211.32L418.75 214.00L418.91 211.32L419.23 205.96L419.55 200.59L419.87 195.22L420.19 189.85L420.52 184.49L420.84 179.14L421.16 173.80L421.48 168.47L421.80 163.17L422.12 157.88L422.45 152.63L422.77 147.40L423.09 142.21L423.41 137.05L423.73 131.93L424.05 126.85L424.38 121.82L424.70 116.84L425.02 111.91L425.34 107.04L425.66 102.23L425.98 97.47L426.30 92.79L426.63 88.17L426.95 83.62L427.27 79.14L427.59 74.75L427.91 70.43L428.23 66.20L428.56 62.05L428.88 57.99L429.20 54.02L429.52 50.14L429.84 46.36L430.16 42.68L430.49 39.10L430.81 35.63L431.13 32.26L431.45 29.00L431.77 25.85L432.09 22.81L432.42 19.89L432.74 17.08L433.06 14.40L433.38 11.83L433.70 9.39L434.02 7.07L434.34 4.88L434.67 2.81L434.99 0.88L435.31 -0.93L435.63 -2.60L435.95 -4.14L436.27 -5.54L436.60 -6.81L436.92 -7.94L437.24 -8.94L437.56 -9.79L437.88 -10.51L438.20 -11.09L438.53 -11.52L438.85 -11.82L439.17 -11.97L439.49 -11.98L439.81 -11.86L440.13 -11.58L440.46 -11.17L440.78 -10.61L441.10 -9.91L441.42 -9.07L441.74 -8.09L442.06 -6.97L442.38 -5.70L442.71 -4.30L443.03 -2.76L443.35 -1.07L443.67 0.75L443.99 2.70L444.31 4.80L444.64 7.03L444.96 9.39L445.28 11.88L445.60 14.51L445.92 17.26L446.24 20.15L446.57 23.16L446.89 26.29L447.21 29.55L447.53 32.93L447.85 36.43L448.17 40.05L448.50 43.78L448.82 47.62L449.14 51.58L449.46 55.64L449.78 59.81L450.10 64.09L450.42 68.46L450.75 72.94L451.07 77.51L451.39 82.17L451.71 86.92L452.03 91.76L452.35 96.69L452.68 101.70L453.00 106.78L453.32 111.94L453.64 117.18L453.96 122.48L454.28 127.85L454.61 133.28L454.93 138.77L455.25 144.32L455.57 149.92L455.89 155.57L456.21 161.27L456.54 167.01L456.86 172.78L457.18 178.59L457.50 184.44M55.50 214.00L55.82 214.00L56.14 213.99L56.46 213.97L56.79 213.94L57.11 213.91L57.43 213.87L57.75 213.82L58.07 213.76L58.39 213.70L58.72 213.63L59.04 213.56L59.36 213.47L59.68 213.38L60.00 213.29L60.32 213.18L60.65 213.07L60.97 212.96L61.29 212.83L61.61 212.71L61.93 212.57L62.25 212.43L62.58 212.29L62.90 212.14L63.22 211.98L63.54 211.82L63.86 211.66L64.18 211.49L64.50 211.31L64.83 211.14L65.15 210.96L65.47 210.77L65.79 210.58L66.11 210.39L66.43 210.20L66.76 210.00L67.08 209.80L67.40 209.60L67.72 209.40L68.04 209.20L68.36 208.99L68.69 208.78L69.01 208.58L69.33 208.37L69.65 208.16L69.97 207.96L70.29 207.75L70.62 207.55L70.94 207.34L71.26 207.14L71.58 206.94L71.90 206.74L72.22 206.55L72.54 206.35L72.87 206.16L73.19 205.97L73.51 205.79L73.83 205.61L74.15 205.44L74.47 205.26L74.80 205.10L75.12 204.94L75.44 204.78L75.76 204.63L76.08 204.49L76.40 204.35L76.73 204.22L77.05 204.09L77.37 203.97L77.69 203.86L78.01 203.76L78.33 203.67L78.66 203.58L78.98 203.50L79.30 203.43L79.62 203.37L79.94 203.31L80.26 203.27L80.58 203.24L80.91 203.21L81.23 203.20L81.55 203.19L81.87 203.19L82.19 203.21L82.51 203.23L82.84 203.27L83.16 203.32L83.48 203.37L83.80 203.44L84.12 203.52L84.44 203.61L84.77 203.71L85.09 203.82L85.41 203.95L85.73 204.08L86.05 204.23L86.37 204.39L86.70 204.56L87.02 204.74L87.34 204.93L87.66 205.14L87.98 205.35L88.30 205.58L88.62 205.82L88.95 206.07L89.27 206.33L89.59 206.61L89.91 206.89L90.23 207.19L90.55 207.49L90.88 207.81L91.20 208.14L91.52 208.48L91.84 208.83L92.16 209.19L92.48 209.56L92.81 209.94L93.13 210.33L93.45 210.72L93.77 211.13L94.09 211.55L94.41 211.98L94.74 212.41L95.06 212.86L95.38 213.31L95.70 213.77L95.86 214.00L96.02 213.77L96.34 213.29L96.66 212.81L96.99 212.32L97.31 211.83L97.63 211.33L97.95 210.82L98.27 210.31L98.59 209.79L98.92 209.27L99.24 208.75L99.56 208.22L99.88 207.68L100.20 207.15L100.52 206.61L100.85 206.07L101.17 205.52L101.49 204.98L101.81 204.43L102.13 203.89L102.45 203.34L102.78 202.79L103.10 202.25L103.42 201.70L103.74 201.16L104.06 200.62L104.38 200.08L104.70 199.55L105.03 199.01L105.35 198.48L105.67 197.96L105.99 197.44L106.31 196.92L106.63 196.41L106.96 195.91L107.28 195.42L107.60 194.93L107.92 194.44L108.24 193.97L108.56 193.50L108.89 193.04L109.21 192.60L109.53 192.16L109.85 191.73L110.17 191.31L110.49 190.90L110.82 190.51L111.14 190.12L111.46 189.75L111.78 189.39L112.10 189.05L112.42 188.71L112.74 188.40L113.07 188.09L113.39 187.80L113.71 187.53L114.03 187.26L114.35 187.02L114.67 186.79L115.00 186.58L115.32 186.38L115.64 186.20L115.96 186.04L116.28 185.90L116.60 185.77L116.93 185.66L117.25 185.57L117.57 185.50L117.89 185.45L118.21 185.41L118.53 185.40L118.86 185.40L119.18 185.43L119.50 185.47L119.82 185.53L120.14 185.62L120.46 185.72L120.78 185.85L121.11 185.99L121.43 186.15L121.75 186.34L122.07 186.55L122.39 186.77L122.71 187.02L123.04 187.29L123.36 187.57L123.68 187.88L124.00 188.21L124.32 188.56L124.64 188.93L124.97 189.32L125.29 189.73L125.61 190.16L125.93 190.61L126.25 191.08L126.57 191.57L126.90 192.08L127.22 192.61L127.54 193.16L127.86 193.73L128.18 194.31L128.50 194.92L128.82 195.54L129.15 196.18L129.47 196.84L129.79 197.51L130.11 198.20L130.43 198.91L130.75 199.63L131.08 200.37L131.40 201.13L131.72 201.90L132.04 202.68L132.36 203.48L132.68 204.30L133.01 205.12L133.33 205.96L133.65 206.81L133.97 207.67L134.29 208.55L134.61 209.43L134.94 210.33L135.26 211.23L135.58 212.15L135.90 213.07L136.22 214.00L136.54 213.06L136.86 212.12L137.19 211.17L137.51 210.21L137.83 209.25L138.15 208.28L138.47 207.31L138.79 206.34L139.12 205.36L139.44 204.39L139.76 203.41L140.08 202.43L140.40 201.45L140.72 200.47L141.05 199.49L141.37 198.52L141.69 197.55L142.01 196.58L142.33 195.61L142.65 194.66L142.98 193.70L143.30 192.75L143.62 191.81L143.94 190.88L144.26 189.96L144.58 189.04L144.90 188.14L145.23 187.24L145.55 186.36L145.87 185.49L146.19 184.63L146.51 183.78L146.83 182.95L147.16 182.13L147.48 181.32L147.80 180.54L148.12 179.76L148.44 179.01L148.76 178.27L149.09 177.55L149.41 176.85L149.73 176.17L150.05 175.51L150.37 174.87L150.69 174.26L151.02 173.66L151.34 173.08L151.66 172.53L151.98 172.00L152.30 171.50L152.62 171.02L152.94 170.56L153.27 170.13L153.59 169.73L153.91 169.35L154.23 169.00L154.55 168.67L154.87 168.37L155.20 168.10L155.52 167.86L155.84 167.65L156.16 167.46L156.48 167.31L156.80 167.18L157.13 167.08L157.45 167.01L157.77 166.98L158.09 166.97L158.41 166.99L158.73 167.05L159.06 167.13L159.38 167.25L159.70 167.39L160.02 167.57L160.34 167.78L160.66 168.02L160.98 168.29L161.31 168.60L161.63 168.93L161.95 169.29L162.27 169.69L162.59 170.12L162.91 170.58L163.24 171.07L163.56 171.58L163.88 172.14L164.20 172.72L164.52 173.33L164.84 173.97L165.17 174.64L165.49 175.34L165.81 176.06L166.13 176.82L166.45 177.61L166.77 178.42L167.10 179.26L167.42 180.13L167.74 181.03L168.06 181.95L168.38 182.90L168.70 183.87L169.02 184.87L169.35 185.89L169.67 186.94L169.99 188.01L170.31 189.10L170.63 190.22L170.95 191.35L171.28 192.51L171.60 193.69L171.92 194.89L172.24 196.10L172.56 197.34L172.88 198.59L173.21 199.86L173.53 201.14L173.85 202.44L174.17 203.76L174.49 205.09L174.81 206.43L175.14 207.78L175.46 209.15L175.78 210.52L176.10 211.91L176.42 213.30L176.58 214.00L176.74 213.30L177.06 211.89L177.39 210.48L177.71 209.06L178.03 207.63L178.35 206.20L178.67 204.77L178.99 203.34L179.32 201.91L179.64 200.48L179.96 199.05L180.28 197.62L180.60 196.19L180.92 194.77L181.25 193.35L181.57 191.94L181.89 190.54L182.21 189.15L182.53 187.76L182.85 186.38L183.18 185.02L183.50 183.66L183.82 182.32L184.14 180.99L184.46 179.68L184.78 178.38L185.10 177.10L185.43 175.83L185.75 174.58L186.07 173.36L186.39 172.15L186.71 170.96L187.03 169.80L187.36 168.65L187.68 167.54L188.00 166.44L188.32 165.37L188.64 164.33L188.96 163.31L189.29 162.32L189.61 161.36L189.93 160.43L190.25 159.53L190.57 158.65L190.89 157.81L191.22 157.00L191.54 156.23L191.86 155.48L192.18 154.78L192.50 154.10L192.82 153.46L193.14 152.86L193.47 152.29L193.79 151.76L194.11 151.27L194.43 150.81L194.75 150.39L195.07 150.02L195.40 149.68L195.72 149.38L196.04 149.12L196.36 148.90L196.68 148.72L197.00 148.58L197.33 148.48L197.65 148.42L197.97 148.41L198.29 148.44L198.61 148.51L198.93 148.62L199.26 148.77L199.58 148.97L199.90 149.21L200.22 149.49L200.54 149.81L200.86 150.18L201.18 150.58L201.51 151.03L201.83 151.53L202.15 152.06L202.47 152.64L202.79 153.26L203.11 153.91L203.44 154.62L203.76 155.36L204.08 156.14L204.40 156.96L204.72 157.82L205.04 158.72L205.37 159.66L205.69 160.64L206.01 161.66L206.33 162.72L206.65 163.81L206.97 164.94L207.30 166.10L207.62 167.30L207.94 168.54L208.26 169.81L208.58 171.11L208.90 172.45L209.22 173.82L209.55 175.22L209.87 176.65L210.19 178.11L210.51 179.59L210.83 181.11L211.15 182.65L211.48 184.22L211.80 185.82L212.12 187.44L212.44 189.08L212.76 190.75L213.08 192.44L213.41 194.15L213.73 195.88L214.05 197.62L214.37 199.39L214.69 201.17L215.01 202.96L215.34 204.77L215.66 206.60L215.98 208.43L216.30 210.28L216.62 212.14L216.94 214.00L217.26 212.13L217.59 210.25L217.91 208.37L218.23 206.48L218.55 204.59L218.87 202.70L219.19 200.80L219.52 198.91L219.84 197.02L220.16 195.14L220.48 193.26L220.80 191.38L221.12 189.51L221.45 187.65L221.77 185.80L222.09 183.96L222.41 182.14L222.73 180.32L223.05 178.52L223.38 176.74L223.70 174.97L224.02 173.22L224.34 171.49L224.66 169.78L224.98 168.09L225.30 166.43L225.63 164.79L225.95 163.17L226.27 161.58L226.59 160.02L226.91 158.48L227.23 156.98L227.56 155.50L227.88 154.06L228.20 152.65L228.52 151.27L228.84 149.93L229.16 148.62L229.49 147.35L229.81 146.12L230.13 144.93L230.45 143.77L230.77 142.66L231.09 141.58L231.42 140.55L231.74 139.57L232.06 138.62L232.38 137.72L232.70 136.87L233.02 136.06L233.34 135.29L233.67 134.58L233.99 133.91L234.31 133.29L234.63 132.72L234.95 132.20L235.27 131.73L235.60 131.31L235.92 130.94L236.24 130.62L236.56 130.36L236.88 130.14L237.20 129.98L237.53 129.87L237.85 129.81L238.17 129.81L238.49 129.86L238.81 129.96L239.13 130.12L239.46 130.33L239.78 130.60L240.10 130.92L240.42 131.29L240.74 131.72L241.06 132.20L241.38 132.73L241.71 133.32L242.03 133.96L242.35 134.65L242.67 135.39L242.99 136.19L243.31 137.04L243.64 137.94L243.96 138.90L244.28 139.90L244.60 140.95L244.92 142.06L245.24 143.21L245.57 144.41L245.89 145.66L246.21 146.96L246.53 148.30L246.85 149.70L247.17 151.13L247.50 152.61L247.82 154.14L248.14 155.70L248.46 157.31L248.78 158.96L249.10 160.66L249.42 162.39L249.75 164.16L250.07 165.96L250.39 167.81L250.71 169.68L251.03 171.60L251.35 173.54L251.68 175.52L252.00 177.53L252.32 179.57L252.64 181.63L252.96 183.73L253.28 185.85L253.61 187.99L253.93 190.16L254.25 192.35L254.57 194.56L254.89 196.79L255.21 199.04L255.54 201.30L255.86 203.59L256.18 205.88L256.50 208.19L256.82 210.51L257.14 212.83L257.30 214.00L257.46 212.83L257.79 210.49L258.11 208.14L258.43 205.79L258.75 203.44L259.07 201.08L259.39 198.73L259.72 196.37L260.04 194.03L260.36 191.68L260.68 189.35L261.00 187.02L261.32 184.70L261.65 182.40L261.97 180.10L262.29 177.82L262.61 175.56L262.93 173.31L263.25 171.08L263.58 168.88L263.90 166.69L264.22 164.53L264.54 162.39L264.86 160.28L265.18 158.19L265.50 156.14L265.83 154.11L266.15 152.12L266.47 150.16L266.79 148.23L267.11 146.34L267.43 144.49L267.76 142.67L268.08 140.89L268.40 139.16L268.72 137.47L269.04 135.82L269.36 134.21L269.69 132.65L270.01 131.14L270.33 129.67L270.65 128.26L270.97 126.89L271.29 125.58L271.62 124.31L271.94 123.10L272.26 121.95L272.58 120.85L272.90 119.80L273.22 118.81L273.54 117.88L273.87 117.00L274.19 116.19L274.51 115.43L274.83 114.73L275.15 114.10L275.47 113.52L275.80 113.01L276.12 112.56L276.44 112.17L276.76 111.85L277.08 111.59L277.40 111.39L277.73 111.26L278.05 111.19L278.37 111.19L278.69 111.25L279.01 111.37L279.33 111.57L279.66 111.82L279.98 112.15L280.30 112.53L280.62 112.99L280.94 113.50L281.26 114.09L281.58 114.73L281.91 115.45L282.23 116.22L282.55 117.06L282.87 117.97L283.19 118.94L283.51 119.97L283.84 121.06L284.16 122.21L284.48 123.43L284.80 124.70L285.12 126.04L285.44 127.43L285.77 128.89L286.09 130.40L286.41 131.97L286.73 133.59L287.05 135.27L287.37 137.01L287.70 138.79L288.02 140.63L288.34 142.53L288.66 144.47L288.98 146.46L289.30 148.50L289.62 150.58L289.95 152.72L290.27 154.89L290.59 157.11L290.91 159.37L291.23 161.68L291.55 164.02L291.88 166.40L292.20 168.82L292.52 171.27L292.84 173.75L293.16 176.27L293.48 178.82L293.81 181.39L294.13 184.00L294.45 186.63L294.77 189.28L295.09 191.96L295.41 194.66L295.74 197.38L296.06 200.11L296.38 202.87L296.70 205.63L297.02 208.41L297.34 211.20L297.66 214.00L297.99 211.19L298.31 208.38L298.63 205.56L298.95 202.75L299.27 199.93L299.59 197.11L299.92 194.30L300.24 191.49L300.56 188.69L300.88 185.89L301.20 183.11L301.52 180.34L301.85 177.58L302.17 174.84L302.49 172.12L302.81 169.41L303.13 166.73L303.45 164.07L303.78 161.43L304.10 158.82L304.42 156.24L304.74 153.69L305.06 151.17L305.38 148.68L305.70 146.23L306.03 143.81L306.35 141.43L306.67 139.10L306.99 136.80L307.31 134.55L307.63 132.34L307.96 130.17L308.28 128.05L308.60 125.99L308.92 123.97L309.24 122.00L309.56 120.09L309.89 118.23L310.21 116.43L310.53 114.68L310.85 113.00L311.17 111.37L311.49 109.80L311.82 108.29L312.14 106.85L312.46 105.47L312.78 104.16L313.10 102.91L313.42 101.73L313.74 100.61L314.07 99.57L314.39 98.59L314.71 97.69L315.03 96.86L315.35 96.09L315.67 95.41L316.00 94.79L316.32 94.25L316.64 93.78L316.96 93.38L317.28 93.06L317.60 92.82L317.93 92.65L318.25 92.56L318.57 92.55L318.89 92.61L319.21 92.75L319.53 92.96L319.86 93.25L320.18 93.62L320.50 94.06L320.82 94.59L321.14 95.18L321.46 95.86L321.78 96.61L322.11 97.44L322.43 98.34L322.75 99.32L323.07 100.37L323.39 101.49L323.71 102.69L324.04 103.97L324.36 105.31L324.68 106.73L325.00 108.21L325.32 109.77L325.64 111.40L325.97 113.10L326.29 114.86L326.61 116.69L326.93 118.58L327.25 120.54L327.57 122.57L327.90 124.65L328.22 126.80L328.54 129.01L328.86 131.28L329.18 133.60L329.50 135.98L329.82 138.41L330.15 140.90L330.47 143.44L330.79 146.03L331.11 148.67L331.43 151.36L331.75 154.09L332.08 156.87L332.40 159.69L332.72 162.55L333.04 165.44L333.36 168.38L333.68 171.35L334.01 174.36L334.33 177.39L334.65 180.46L334.97 183.56L335.29 186.68L335.61 189.82L335.94 192.99L336.26 196.18L336.58 199.39L336.90 202.61L337.22 205.85L337.54 209.10L337.86 212.37L338.03 214.00L338.19 212.36L338.51 209.09L338.83 205.81L339.15 202.52L339.47 199.24L339.79 195.96L340.12 192.68L340.44 189.41L340.76 186.14L341.08 182.89L341.40 179.65L341.72 176.42L342.05 173.21L342.37 170.02L342.69 166.85L343.01 163.70L343.33 160.58L343.65 157.48L343.98 154.41L344.30 151.37L344.62 148.37L344.94 145.39L345.26 142.46L345.58 139.56L345.90 136.71L346.23 133.90L346.55 131.13L346.87 128.40L347.19 125.73L347.51 123.10L347.83 120.53L348.16 118.01L348.48 115.54L348.80 113.13L349.12 110.78L349.44 108.49L349.76 106.26L350.09 104.10L350.41 101.99L350.73 99.96L351.05 97.99L351.37 96.09L351.69 94.26L352.02 92.50L352.34 90.81L352.66 89.20L352.98 87.67L353.30 86.21L353.62 84.82L353.94 83.52L354.27 82.29L354.59 81.15L354.91 80.08L355.23 79.10L355.55 78.20L355.87 77.38L356.20 76.65L356.52 76.01L356.84 75.44L357.16 74.97L357.48 74.58L357.80 74.28L358.13 74.06L358.45 73.94L358.77 73.90L359.09 73.95L359.41 74.09L359.73 74.31L360.06 74.63L360.38 75.03L360.70 75.52L361.02 76.10L361.34 76.77L361.66 77.52L361.98 78.36L362.31 79.29L362.63 80.31L362.95 81.41L363.27 82.60L363.59 83.87L363.91 85.23L364.24 86.67L364.56 88.20L364.88 89.81L365.20 91.50L365.52 93.27L365.84 95.12L366.17 97.04L366.49 99.05L366.81 101.13L367.13 103.29L367.45 105.52L367.77 107.83L368.10 110.20L368.42 112.65L368.74 115.16L369.06 117.75L369.38 120.39L369.70 123.11L370.02 125.88L370.35 128.72L370.67 131.62L370.99 134.57L371.31 137.58L371.63 140.64L371.95 143.76L372.28 146.93L372.60 150.14L372.92 153.41L373.24 156.71L373.56 160.06L373.88 163.45L374.21 166.88L374.53 170.35L374.85 173.85L375.17 177.38L375.49 180.94L375.81 184.54L376.14 188.15L376.46 191.79L376.78 195.45L377.10 199.13L377.42 202.83L377.74 206.54L378.06 210.27L378.39 214.00L378.71 210.26L379.03 206.51L379.35 202.76L379.67 199.02L379.99 195.27L380.32 191.53L380.64 187.79L380.96 184.06L381.28 180.35L381.60 176.65L381.92 172.96L382.25 169.29L382.57 165.65L382.89 162.02L383.21 158.43L383.53 154.86L383.85 151.32L384.18 147.81L384.50 144.34L384.82 140.91L385.14 137.51L385.46 134.16L385.78 130.85L386.10 127.58L386.43 124.36L386.75 121.20L387.07 118.08L387.39 115.02L387.71 112.02L388.03 109.08L388.36 106.19L388.68 103.37L389.00 100.61L389.32 97.92L389.64 95.29L389.96 92.74L390.29 90.25L390.61 87.84L390.93 85.51L391.25 83.25L391.57 81.07L391.89 78.96L392.22 76.94L392.54 75.00L392.86 73.15L393.18 71.38L393.50 69.69L393.82 68.10L394.14 66.59L394.47 65.17L394.79 63.85L395.11 62.61L395.43 61.47L395.75 60.42L396.07 59.47L396.40 58.61L396.72 57.85L397.04 57.18L397.36 56.61L397.68 56.14L398.00 55.77L398.33 55.50L398.65 55.33L398.97 55.25L399.29 55.28L399.61 55.40L399.93 55.63L400.26 55.96L400.58 56.38L400.90 56.91L401.22 57.53L401.54 58.26L401.86 59.08L402.18 60.00L402.51 61.02L402.83 62.14L403.15 63.36L403.47 64.68L403.79 66.09L404.11 67.59L404.44 69.19L404.76 70.89L405.08 72.68L405.40 74.56L405.72 76.53L406.04 78.59L406.37 80.74L406.69 82.98L407.01 85.30L407.33 87.71L407.65 90.21L407.97 92.78L408.30 95.44L408.62 98.18L408.94 100.99L409.26 103.88L409.58 106.85L409.90 109.89L410.22 113.00L410.55 116.17L410.87 119.42L411.19 122.73L411.51 126.10L411.83 129.54L412.15 133.03L412.48 136.59L412.80 140.19L413.12 143.85L413.44 147.56L413.76 151.32L414.08 155.13L414.41 158.98L414.73 162.87L415.05 166.80L415.37 170.76L415.69 174.76L416.01 178.80L416.34 182.86L416.66 186.95L416.98 191.06L417.30 195.19L417.62 199.35L417.94 203.52L418.26 207.70L418.59 211.90L418.75 214.00L418.91 211.90L419.23 207.69L419.55 203.47L419.87 199.26L420.19 195.04L420.52 190.83L420.84 186.63L421.16 182.44L421.48 178.26L421.80 174.10L422.12 169.95L422.45 165.83L422.77 161.72L423.09 157.64L423.41 153.60L423.73 149.58L424.05 145.59L424.38 141.64L424.70 137.73L425.02 133.87L425.34 130.04L425.66 126.26L425.98 122.53L426.30 118.85L426.63 115.22L426.95 111.65L427.27 108.14L427.59 104.69L427.91 101.30L428.23 97.98L428.56 94.72L428.88 91.53L429.20 88.42L429.52 85.37L429.84 82.41L430.16 79.52L430.49 76.71L430.81 73.98L431.13 71.34L431.45 68.78L431.77 66.30L432.09 63.92L432.42 61.63L432.74 59.42L433.06 57.32L433.38 55.30L433.70 53.38L434.02 51.57L434.34 49.84L434.67 48.22L434.99 46.71L435.31 45.29L435.63 43.98L435.95 42.77L436.27 41.67L436.60 40.67L436.92 39.78L437.24 39.00L437.56 38.33L437.88 37.77L438.20 37.31L438.53 36.97L438.85 36.74L439.17 36.62L439.49 36.61L439.81 36.71L440.13 36.92L440.46 37.25L440.78 37.68L441.10 38.23L441.42 38.89L441.74 39.66L442.06 40.55L442.38 41.54L442.71 42.64L443.03 43.85L443.35 45.17L443.67 46.60L443.99 48.14L444.31 49.78L444.64 51.53L444.96 53.38L445.28 55.34L445.60 57.40L445.92 59.57L446.24 61.83L446.57 64.19L446.89 66.66L447.21 69.21L447.53 71.87L447.85 74.61L448.17 77.45L448.50 80.38L448.82 83.40L449.14 86.50L449.46 89.69L449.78 92.97L450.10 96.32L450.42 99.76L450.75 103.27L451.07 106.86L451.39 110.52L451.71 114.25L452.03 118.05L452.35 121.91L452.68 125.84L453.00 129.84L453.32 133.89L453.64 138.00L453.96 142.16L454.28 146.37L454.61 150.64L454.93 154.95L455.25 159.30L455.57 163.70L455.89 168.14L456.21 172.61L456.54 177.11L456.86 181.65L457.18 186.21L457.50 190.79M55.50 214.00L55.82 214.00L56.14 213.99L56.46 213.97L56.79 213.95L57.11 213.92L57.43 213.89L57.75 213.85L58.07 213.80L58.39 213.75L58.72 213.69L59.04 213.63L59.36 213.56L59.68 213.49L60.00 213.41L60.32 213.32L60.65 213.23L60.97 213.13L61.29 213.03L61.61 212.93L61.93 212.82L62.25 212.70L62.58 212.58L62.90 212.46L63.22 212.33L63.54 212.19L63.86 212.06L64.18 211.92L64.50 211.77L64.83 211.63L65.15 211.47L65.47 211.32L65.79 211.17L66.11 211.01L66.43 210.85L66.76 210.68L67.08 210.52L67.40 210.35L67.72 210.18L68.04 210.01L68.36 209.84L68.69 209.67L69.01 209.50L69.33 209.33L69.65 209.16L69.97 208.99L70.29 208.82L70.62 208.65L70.94 208.48L71.26 208.31L71.58 208.14L71.90 207.98L72.22 207.82L72.54 207.66L72.87 207.50L73.19 207.34L73.51 207.19L73.83 207.04L74.15 206.90L74.47 206.75L74.80 206.62L75.12 206.48L75.44 206.35L75.76 206.23L76.08 206.11L76.40 205.99L76.73 205.89L77.05 205.78L77.37 205.68L77.69 205.59L78.01 205.51L78.33 205.43L78.66 205.36L78.98 205.29L79.30 205.23L79.62 205.18L79.94 205.14L80.26 205.10L80.58 205.07L80.91 205.05L81.23 205.04L81.55 205.03L81.87 205.04L82.19 205.05L82.51 205.07L82.84 205.10L83.16 205.14L83.48 205.19L83.80 205.24L84.12 205.31L84.44 205.38L84.77 205.47L85.09 205.56L85.41 205.66L85.73 205.78L86.05 205.90L86.37 206.03L86.70 206.17L87.02 206.32L87.34 206.48L87.66 206.65L87.98 206.83L88.30 207.02L88.62 207.22L88.95 207.42L89.27 207.64L89.59 207.87L89.91 208.10L90.23 208.35L90.55 208.60L90.88 208.87L91.20 209.14L91.52 209.42L91.84 209.71L92.16 210.01L92.48 210.31L92.81 210.63L93.13 210.95L93.45 211.28L93.77 211.62L94.09 211.97L94.41 212.32L94.74 212.68L95.06 213.05L95.38 213.43L95.70 213.81L95.86 214.00L96.02 213.81L96.34 213.41L96.66 213.01L96.99 212.61L97.31 212.20L97.63 211.78L97.95 211.36L98.27 210.94L98.59 210.51L98.92 210.08L99.24 209.64L99.56 209.20L99.88 208.76L100.20 208.32L100.52 207.87L100.85 207.42L101.17 206.97L101.49 206.52L101.81 206.06L102.13 205.61L102.45 205.16L102.78 204.71L103.10 204.25L103.42 203.80L103.74 203.35L104.06 202.90L104.38 202.45L104.70 202.01L105.03 201.57L105.35 201.13L105.67 200.69L105.99 200.26L106.31 199.84L106.63 199.41L106.96 199.00L107.28 198.58L107.60 198.18L107.92 197.78L108.24 197.38L108.56 197.00L108.89 196.62L109.21 196.25L109.53 195.88L109.85 195.53L110.17 195.18L110.49 194.84L110.82 194.51L111.14 194.20L111.46 193.89L111.78 193.59L112.10 193.30L112.42 193.03L112.74 192.76L113.07 192.51L113.39 192.27L113.71 192.04L114.03 191.82L114.35 191.62L114.67 191.43L115.00 191.25L115.32 191.09L115.64 190.94L115.96 190.81L116.28 190.69L116.60 190.59L116.93 190.50L117.25 190.42L117.57 190.36L117.89 190.32L118.21 190.29L118.53 190.28L118.86 190.28L119.18 190.30L119.50 190.34L119.82 190.39L120.14 190.46L120.46 190.54L120.78 190.65L121.11 190.77L121.43 190.90L121.75 191.06L122.07 191.23L122.39 191.41L122.71 191.62L123.04 191.84L123.36 192.08L123.68 192.34L124.00 192.61L124.32 192.90L124.64 193.21L124.97 193.53L125.29 193.87L125.61 194.23L125.93 194.60L126.25 194.99L126.57 195.40L126.90 195.82L127.22 196.26L127.54 196.71L127.86 197.18L128.18 197.67L128.50 198.17L128.82 198.69L129.15 199.22L129.47 199.76L129.79 200.32L130.11 200.90L130.43 201.48L130.75 202.08L131.08 202.70L131.40 203.32L131.72 203.96L132.04 204.61L132.36 205.28L132.68 205.95L133.01 206.64L133.33 207.33L133.65 208.04L133.97 208.75L134.29 209.48L134.61 210.21L134.94 210.95L135.26 211.70L135.58 212.46L135.90 213.23L136.22 214.00L136.54 213.22L136.86 212.44L137.19 211.65L137.51 210.86L137.83 210.06L138.15 209.26L138.47 208.45L138.79 207.64L139.12 206.84L139.44 206.02L139.76 205.21L140.08 204.40L140.40 203.59L140.72 202.78L141.05 201.97L141.37 201.16L141.69 200.35L142.01 199.55L142.33 198.75L142.65 197.95L142.98 197.16L143.30 196.38L143.62 195.60L143.94 194.82L144.26 194.06L144.58 193.30L144.90 192.55L145.23 191.80L145.55 191.07L145.87 190.35L146.19 189.63L146.51 188.93L146.83 188.24L147.16 187.56L147.48 186.90L147.80 186.24L148.12 185.60L148.44 184.98L148.76 184.37L149.09 183.77L149.41 183.19L149.73 182.62L150.05 182.08L150.37 181.55L150.69 181.03L151.02 180.54L151.34 180.06L151.66 179.60L151.98 179.16L152.30 178.75L152.62 178.35L152.94 177.97L153.27 177.61L153.59 177.28L153.91 176.96L154.23 176.67L154.55 176.40L154.87 176.15L155.20 175.93L155.52 175.73L155.84 175.55L156.16 175.40L156.48 175.27L156.80 175.16L157.13 175.08L157.45 175.03L157.77 175.00L158.09 174.99L158.41 175.01L158.73 175.05L159.06 175.12L159.38 175.22L159.70 175.34L160.02 175.49L160.34 175.66L160.66 175.86L160.98 176.09L161.31 176.34L161.63 176.61L161.95 176.92L162.27 177.25L162.59 177.60L162.91 177.98L163.24 178.39L163.56 178.82L163.88 179.27L164.20 179.76L164.52 180.26L164.84 180.79L165.17 181.35L165.49 181.93L165.81 182.53L166.13 183.16L166.45 183.81L166.77 184.49L167.10 185.19L167.42 185.91L167.74 186.65L168.06 187.41L168.38 188.20L168.70 189.01L169.02 189.84L169.35 190.68L169.67 191.55L169.99 192.44L170.31 193.35L170.63 194.27L170.95 195.21L171.28 196.18L171.60 197.15L171.92 198.15L172.24 199.15L172.56 200.18L172.88 201.22L173.21 202.27L173.53 203.34L173.85 204.41L174.17 205.50L174.49 206.61L174.81 207.72L175.14 208.84L175.46 209.97L175.78 211.11L176.10 212.26L176.42 213.42L176.58 214.00L176.74 213.42L177.06 212.25L177.39 211.08L177.71 209.90L178.03 208.72L178.35 207.53L178.67 206.35L178.99 205.16L179.32 203.97L179.64 202.78L179.96 201.60L180.28 200.41L180.60 199.23L180.92 198.05L181.25 196.88L181.57 195.71L181.89 194.54L182.21 193.38L182.53 192.23L182.85 191.09L183.18 189.96L183.50 188.83L183.82 187.72L184.14 186.62L184.46 185.53L184.78 184.45L185.10 183.39L185.43 182.34L185.75 181.31L186.07 180.29L186.39 179.29L186.71 178.30L187.03 177.33L187.36 176.39L187.68 175.46L188.00 174.55L188.32 173.66L188.64 172.80L188.96 171.95L189.29 171.13L189.61 170.34L189.93 169.56L190.25 168.81L190.57 168.09L190.89 167.39L191.22 166.72L191.54 166.08L191.86 165.46L192.18 164.87L192.50 164.32L192.82 163.78L193.14 163.28L193.47 162.81L193.79 162.37L194.11 161.96L194.43 161.59L194.75 161.24L195.07 160.93L195.40 160.64L195.72 160.40L196.04 160.18L196.36 160.00L196.68 159.85L197.00 159.73L197.33 159.65L197.65 159.61L197.97 159.59L198.29 159.62L198.61 159.67L198.93 159.77L199.26 159.89L199.58 160.06L199.90 160.26L200.22 160.49L200.54 160.76L200.86 161.06L201.18 161.40L201.51 161.77L201.83 162.18L202.15 162.62L202.47 163.10L202.79 163.61L203.11 164.16L203.44 164.74L203.76 165.36L204.08 166.00L204.40 166.69L204.72 167.40L205.04 168.15L205.37 168.93L205.69 169.74L206.01 170.59L206.33 171.46L206.65 172.37L206.97 173.30L207.30 174.27L207.62 175.27L207.94 176.29L208.26 177.34L208.58 178.43L208.90 179.53L209.22 180.67L209.55 181.83L209.87 183.02L210.19 184.23L210.51 185.46L210.83 186.72L211.15 188.00L211.48 189.30L211.80 190.63L212.12 191.97L212.44 193.33L212.76 194.71L213.08 196.12L213.41 197.53L213.73 198.97L214.05 200.41L214.37 201.88L214.69 203.36L215.01 204.84L215.34 206.35L215.66 207.86L215.98 209.38L216.30 210.91L216.62 212.45L216.94 214.00L217.26 212.45L217.59 210.89L217.91 209.33L218.23 207.76L218.55 206.19L218.87 204.62L219.19 203.05L219.52 201.49L219.84 199.92L220.16 198.35L220.48 196.79L220.80 195.24L221.12 193.69L221.45 192.15L221.77 190.61L222.09 189.09L222.41 187.57L222.73 186.07L223.05 184.57L223.38 183.09L223.70 181.63L224.02 180.18L224.34 178.74L224.66 177.32L224.98 175.92L225.30 174.54L225.63 173.18L225.95 171.84L226.27 170.52L226.59 169.22L226.91 167.95L227.23 166.70L227.56 165.48L227.88 164.28L228.20 163.11L228.52 161.97L228.84 160.85L229.16 159.77L229.49 158.72L229.81 157.69L230.13 156.70L230.45 155.75L230.77 154.82L231.09 153.93L231.42 153.08L231.74 152.26L232.06 151.47L232.38 150.73L232.70 150.02L233.02 149.35L233.34 148.71L233.67 148.12L233.99 147.57L234.31 147.05L234.63 146.58L234.95 146.15L235.27 145.76L235.60 145.41L235.92 145.10L236.24 144.84L236.56 144.62L236.88 144.44L237.20 144.31L237.53 144.22L237.85 144.17L238.17 144.17L238.49 144.21L238.81 144.29L239.13 144.42L239.46 144.60L239.78 144.82L240.10 145.08L240.42 145.39L240.74 145.75L241.06 146.14L241.38 146.59L241.71 147.07L242.03 147.60L242.35 148.18L242.67 148.80L242.99 149.46L243.31 150.16L243.64 150.91L243.96 151.70L244.28 152.54L244.60 153.41L244.92 154.32L245.24 155.28L245.57 156.28L245.89 157.32L246.21 158.39L246.53 159.51L246.85 160.66L247.17 161.85L247.50 163.08L247.82 164.34L248.14 165.64L248.46 166.98L248.78 168.35L249.10 169.75L249.42 171.19L249.75 172.66L250.07 174.15L250.39 175.68L250.71 177.24L251.03 178.83L251.35 180.44L251.68 182.08L252.00 183.75L252.32 185.44L252.64 187.15L252.96 188.89L253.28 190.65L253.61 192.43L253.93 194.22L254.25 196.04L254.57 197.88L254.89 199.73L255.21 201.59L255.54 203.47L255.86 205.36L256.18 207.26L256.50 209.18L256.82 211.10L257.14 213.03L257.30 214.00L257.46 213.03L257.79 211.09L258.11 209.14L258.43 207.19L258.75 205.24L259.07 203.28L259.39 201.33L259.72 199.38L260.04 197.43L260.36 195.49L260.68 193.55L261.00 191.62L261.32 189.70L261.65 187.78L261.97 185.88L262.29 183.99L262.61 182.11L262.93 180.25L263.25 178.40L263.58 176.57L263.90 174.76L264.22 172.96L264.54 171.19L264.86 169.44L265.18 167.71L265.50 166.00L265.83 164.32L266.15 162.67L266.47 161.04L266.79 159.45L267.11 157.88L267.43 156.34L267.76 154.83L268.08 153.36L268.40 151.92L268.72 150.52L269.04 149.15L269.36 147.82L269.69 146.52L270.01 145.27L270.33 144.05L270.65 142.88L270.97 141.75L271.29 140.65L271.62 139.61L271.94 138.60L272.26 137.64L272.58 136.73L272.90 135.86L273.22 135.04L273.54 134.27L273.87 133.54L274.19 132.87L274.51 132.24L274.83 131.66L275.15 131.13L275.47 130.66L275.80 130.23L276.12 129.86L276.44 129.54L276.76 129.27L277.08 129.05L277.40 128.89L277.73 128.78L278.05 128.72L278.37 128.72L278.69 128.77L279.01 128.87L279.33 129.03L279.66 129.25L279.98 129.51L280.30 129.84L280.62 130.21L280.94 130.64L281.26 131.12L281.58 131.66L281.91 132.25L282.23 132.90L282.55 133.59L282.87 134.34L283.19 135.15L283.51 136.00L283.84 136.91L284.16 137.86L284.48 138.87L284.80 139.93L285.12 141.04L285.44 142.19L285.77 143.40L286.09 144.65L286.41 145.96L286.73 147.30L287.05 148.70L287.37 150.13L287.70 151.62L288.02 153.14L288.34 154.71L288.66 156.32L288.98 157.98L289.30 159.67L289.62 161.40L289.95 163.17L290.27 164.97L290.59 166.81L290.91 168.69L291.23 170.60L291.55 172.54L291.88 174.52L292.20 176.52L292.52 178.55L292.84 180.61L293.16 182.70L293.48 184.82L293.81 186.95L294.13 189.11L294.45 191.30L294.77 193.50L295.09 195.72L295.41 197.96L295.74 200.21L296.06 202.48L296.38 204.76L296.70 207.06L297.02 209.36L297.34 211.68L297.66 214.00L297.99 211.67L298.31 209.34L298.63 207.00L298.95 204.67L299.27 202.33L299.59 199.99L299.92 197.66L300.24 195.33L300.56 193.00L300.88 190.68L301.20 188.38L301.52 186.08L301.85 183.79L302.17 181.52L302.49 179.26L302.81 177.01L303.13 174.79L303.45 172.58L303.78 170.40L304.10 168.23L304.42 166.09L304.74 163.97L305.06 161.88L305.38 159.82L305.70 157.78L306.03 155.78L306.35 153.81L306.67 151.87L306.99 149.96L307.31 148.09L307.63 146.26L307.96 144.47L308.28 142.71L308.60 140.99L308.92 139.32L309.24 137.69L309.56 136.10L309.89 134.56L310.21 133.07L310.53 131.62L310.85 130.22L311.17 128.87L311.49 127.57L311.82 126.32L312.14 125.12L312.46 123.98L312.78 122.89L313.10 121.85L313.42 120.87L313.74 119.95L314.07 119.08L314.39 118.27L314.71 117.52L315.03 116.83L315.35 116.20L315.67 115.63L316.00 115.12L316.32 114.67L316.64 114.28L316.96 113.95L317.28 113.69L317.60 113.48L317.93 113.34L318.25 113.27L318.57 113.26L318.89 113.31L319.21 113.42L319.53 113.60L319.86 113.84L320.18 114.15L320.50 114.52L320.82 114.95L321.14 115.44L321.46 116.00L321.78 116.63L322.11 117.31L322.43 118.06L322.75 118.87L323.07 119.74L323.39 120.68L323.71 121.67L324.04 122.73L324.36 123.84L324.68 125.02L325.00 126.25L325.32 127.54L325.64 128.89L325.97 130.30L326.29 131.76L326.61 133.28L326.93 134.85L327.25 136.48L327.57 138.16L327.90 139.89L328.22 141.67L328.54 143.50L328.86 145.38L329.18 147.31L329.50 149.28L329.82 151.30L330.15 153.37L330.47 155.47L330.79 157.62L331.11 159.81L331.43 162.04L331.75 164.31L332.08 166.61L332.40 168.95L332.72 171.32L333.04 173.72L333.36 176.16L333.68 178.62L334.01 181.12L334.33 183.64L334.65 186.18L334.97 188.75L335.29 191.34L335.61 193.95L335.94 196.58L336.26 199.22L336.58 201.88L336.90 204.56L337.22 207.24L337.54 209.94L337.86 212.64L338.03 214.00L338.19 212.64L338.51 209.92L338.83 207.20L339.15 204.48L339.47 201.76L339.79 199.03L340.12 196.32L340.44 193.60L340.76 190.89L341.08 188.20L341.40 185.51L341.72 182.83L342.05 180.17L342.37 177.52L342.69 174.89L343.01 172.28L343.33 169.69L343.65 167.12L343.98 164.57L344.30 162.05L344.62 159.56L344.94 157.09L345.26 154.66L345.58 152.26L345.90 149.89L346.23 147.55L346.55 145.26L346.87 143.00L347.19 140.78L347.51 138.60L347.83 136.47L348.16 134.38L348.48 132.33L348.80 130.33L349.12 128.38L349.44 126.48L349.76 124.63L350.09 122.84L350.41 121.09L350.73 119.40L351.05 117.77L351.37 116.20L351.69 114.68L352.02 113.22L352.34 111.82L352.66 110.48L352.98 109.21L353.30 108.00L353.62 106.85L353.94 105.77L354.27 104.75L354.59 103.80L354.91 102.92L355.23 102.10L355.55 101.36L355.87 100.68L356.20 100.07L356.52 99.54L356.84 99.07L357.16 98.68L357.48 98.35L357.80 98.10L358.13 97.93L358.45 97.82L358.77 97.79L359.09 97.83L359.41 97.94L359.73 98.13L360.06 98.39L360.38 98.73L360.70 99.13L361.02 99.61L361.34 100.17L361.66 100.79L361.98 101.49L362.31 102.26L362.63 103.11L362.95 104.02L363.27 105.01L363.59 106.06L363.91 107.19L364.24 108.39L364.56 109.65L364.88 110.98L365.20 112.39L365.52 113.85L365.84 115.39L366.17 116.99L366.49 118.65L366.81 120.38L367.13 122.17L367.45 124.02L367.77 125.93L368.10 127.90L368.42 129.93L368.74 132.02L369.06 134.16L369.38 136.36L369.70 138.61L370.02 140.91L370.35 143.26L370.67 145.66L370.99 148.11L371.31 150.61L371.63 153.15L371.95 155.74L372.28 158.36L372.60 161.03L372.92 163.74L373.24 166.48L373.56 169.26L373.88 172.07L374.21 174.92L374.53 177.79L374.85 180.70L375.17 183.63L375.49 186.58L375.81 189.56L376.14 192.56L376.46 195.58L376.78 198.62L377.10 201.67L377.42 204.74L377.74 207.81L378.06 210.90L378.39 214.00L378.71 210.90L379.03 207.79L379.35 204.68L379.67 201.57L379.99 198.46L380.32 195.36L380.64 192.26L380.96 189.17L381.28 186.09L381.60 183.01L381.92 179.96L382.25 176.92L382.57 173.89L382.89 170.89L383.21 167.90L383.53 164.94L383.85 162.01L384.18 159.10L384.50 156.22L384.82 153.37L385.14 150.55L385.46 147.77L385.78 145.02L386.10 142.32L386.43 139.65L386.75 137.02L387.07 134.44L387.39 131.90L387.71 129.41L388.03 126.97L388.36 124.57L388.68 122.23L389.00 119.94L389.32 117.71L389.64 115.53L389.96 113.41L390.29 111.35L390.61 109.35L390.93 107.42L391.25 105.54L391.57 103.73L391.89 101.99L392.22 100.31L392.54 98.70L392.86 97.17L393.18 95.70L393.50 94.30L393.82 92.98L394.14 91.73L394.47 90.55L394.79 89.45L395.11 88.43L395.43 87.48L395.75 86.61L396.07 85.82L396.40 85.11L396.72 84.47L397.04 83.92L397.36 83.45L397.68 83.06L398.00 82.75L398.33 82.53L398.65 82.38L398.97 82.32L399.29 82.34L399.61 82.45L399.93 82.63L400.26 82.90L400.58 83.26L400.90 83.69L401.22 84.21L401.54 84.81L401.86 85.50L402.18 86.26L402.51 87.11L402.83 88.04L403.15 89.05L403.47 90.14L403.79 91.31L404.11 92.56L404.44 93.89L404.76 95.29L405.08 96.78L405.40 98.34L405.72 99.97L406.04 101.68L406.37 103.46L406.69 105.32L407.01 107.25L407.33 109.25L407.65 111.32L407.97 113.45L408.30 115.66L408.62 117.93L408.94 120.26L409.26 122.66L409.58 125.12L409.90 127.64L410.22 130.22L410.55 132.85L410.87 135.55L411.19 138.29L411.51 141.09L411.83 143.94L412.15 146.84L412.48 149.79L412.80 152.78L413.12 155.81L413.44 158.89L413.76 162.01L414.08 165.17L414.41 168.36L414.73 171.59L415.05 174.85L415.37 178.14L415.69 181.45L416.01 184.80L416.34 188.17L416.66 191.56L416.98 194.97L417.30 198.40L417.62 201.85L417.94 205.31L418.26 208.78L418.59 212.26L418.75 214.00L418.91 212.26L419.23 208.76L419.55 205.27L419.87 201.77L420.19 198.28L420.52 194.78L420.84 191.30L421.16 187.82L421.48 184.36L421.80 180.90L422.12 177.46L422.45 174.04L422.77 170.64L423.09 167.25L423.41 163.90L423.73 160.56L424.05 157.26L424.38 153.98L424.70 150.74L425.02 147.53L425.34 144.36L425.66 141.22L425.98 138.13L426.30 135.08L426.63 132.07L426.95 129.11L427.27 126.19L427.59 123.33L427.91 120.52L428.23 117.76L428.56 115.06L428.88 112.42L429.20 109.83L429.52 107.31L429.84 104.85L430.16 102.45L430.49 100.12L430.81 97.86L431.13 95.66L431.45 93.54L431.77 91.49L432.09 89.51L432.42 87.61L432.74 85.78L433.06 84.03L433.38 82.36L433.70 80.77L434.02 79.26L434.34 77.84L434.67 76.49L434.99 75.23L435.31 74.06L435.63 72.97L435.95 71.97L436.27 71.05L436.60 70.23L436.92 69.49L437.24 68.84L437.56 68.28L437.88 67.82L438.20 67.44L438.53 67.16L438.85 66.96L439.17 66.86L439.49 66.86L439.81 66.94L440.13 67.12L440.46 67.39L440.78 67.75L441.10 68.20L441.42 68.75L441.74 69.39L442.06 70.12L442.38 70.95L442.71 71.86L443.03 72.86L443.35 73.96L443.67 75.15L443.99 76.42L444.31 77.78L444.64 79.23L444.96 80.77L445.28 82.40L445.60 84.11L445.92 85.90L446.24 87.78L446.57 89.74L446.89 91.78L447.21 93.90L447.53 96.10L447.85 98.38L448.17 100.74L448.50 103.16L448.82 105.67L449.14 108.24L449.46 110.89L449.78 113.61L450.10 116.39L450.42 119.24L450.75 122.15L451.07 125.13L451.39 128.16L451.71 131.26L452.03 134.41L452.35 137.62L452.68 140.88L453.00 144.19L453.32 147.55L453.64 150.96L453.96 154.41L454.28 157.91L454.61 161.44L454.93 165.02L455.25 168.63L455.57 172.28L455.89 175.96L456.21 179.66L456.54 183.40L456.86 187.16L457.18 190.95L457.50 194.75M55.50 214.00L55.82 214.00L56.14 213.99L56.46 213.98L56.79 213.96L57.11 213.94L57.43 213.91L57.75 213.87L58.07 213.84L58.39 213.79L58.72 213.74L59.04 213.69L59.36 213.63L59.68 213.57L60.00 213.50L60.32 213.43L60.65 213.36L60.97 213.28L61.29 213.19L61.61 213.10L61.93 213.01L62.25 212.91L62.58 212.81L62.90 212.71L63.22 212.60L63.54 212.49L63.86 212.37L64.18 212.26L64.50 212.14L64.83 212.01L65.15 211.89L65.47 211.76L65.79 211.63L66.11 211.50L66.43 211.36L66.76 211.22L67.08 211.09L67.40 210.95L67.72 210.81L68.04 210.66L68.36 210.52L68.69 210.38L69.01 210.24L69.33 210.09L69.65 209.95L69.97 209.81L70.29 209.66L70.62 209.52L70.94 209.38L71.26 209.24L71.58 209.10L71.90 208.96L72.22 208.83L72.54 208.69L72.87 208.56L73.19 208.43L73.51 208.30L73.83 208.18L74.15 208.05L74.47 207.94L74.80 207.82L75.12 207.71L75.44 207.60L75.76 207.50L76.08 207.40L76.40 207.30L76.73 207.21L77.05 207.12L77.37 207.04L77.69 206.96L78.01 206.89L78.33 206.83L78.66 206.77L78.98 206.71L79.30 206.66L79.62 206.62L79.94 206.58L80.26 206.55L80.58 206.53L80.91 206.51L81.23 206.50L81.55 206.50L81.87 206.50L82.19 206.51L82.51 206.53L82.84 206.55L83.16 206.58L83.48 206.62L83.80 206.67L84.12 206.73L84.44 206.79L84.77 206.86L85.09 206.94L85.41 207.02L85.73 207.12L86.05 207.22L86.37 207.33L86.70 207.45L87.02 207.57L87.34 207.71L87.66 207.85L87.98 208.00L88.30 208.16L88.62 208.32L88.95 208.50L89.27 208.68L89.59 208.87L89.91 209.07L90.23 209.27L90.55 209.48L90.88 209.70L91.20 209.93L91.52 210.17L91.84 210.41L92.16 210.66L92.48 210.92L92.81 211.18L93.13 211.45L93.45 211.73L93.77 212.01L94.09 212.30L94.41 212.60L94.74 212.90L95.06 213.21L95.38 213.52L95.70 213.84L95.86 214.00L96.02 213.84L96.34 213.51L96.66 213.17L96.99 212.83L97.31 212.49L97.63 212.14L97.95 211.79L98.27 211.44L98.59 211.08L98.92 210.72L99.24 210.35L99.56 209.98L99.88 209.61L100.20 209.24L100.52 208.87L100.85 208.49L101.17 208.12L101.49 207.74L101.81 207.36L102.13 206.98L102.45 206.60L102.78 206.22L103.10 205.84L103.42 205.46L103.74 205.09L104.06 204.71L104.38 204.34L104.70 203.97L105.03 203.60L105.35 203.23L105.67 202.86L105.99 202.50L106.31 202.15L106.63 201.79L106.96 201.44L107.28 201.10L107.60 200.76L107.92 200.42L108.24 200.09L108.56 199.77L108.89 199.45L109.21 199.14L109.53 198.84L109.85 198.54L110.17 198.25L110.49 197.97L110.82 197.69L111.14 197.43L111.46 197.17L111.78 196.92L112.10 196.68L112.42 196.45L112.74 196.23L113.07 196.01L113.39 195.81L113.71 195.62L114.03 195.44L114.35 195.27L114.67 195.11L115.00 194.97L115.32 194.83L115.64 194.71L115.96 194.59L116.28 194.49L116.60 194.40L116.93 194.33L117.25 194.27L117.57 194.22L117.89 194.18L118.21 194.16L118.53 194.15L118.86 194.15L119.18 194.17L119.50 194.20L119.82 194.24L120.14 194.30L120.46 194.37L120.78 194.46L121.11 194.56L121.43 194.67L121.75 194.80L122.07 194.94L122.39 195.10L122.71 195.27L123.04 195.46L123.36 195.66L123.68 195.87L124.00 196.10L124.32 196.34L124.64 196.60L124.97 196.87L125.29 197.15L125.61 197.45L125.93 197.77L126.25 198.09L126.57 198.43L126.90 198.79L127.22 199.15L127.54 199.53L127.86 199.93L128.18 200.33L128.50 200.75L128.82 201.19L129.15 201.63L129.47 202.09L129.79 202.55L130.11 203.03L130.43 203.53L130.75 204.03L131.08 204.54L131.40 205.07L131.72 205.60L132.04 206.14L132.36 206.70L132.68 207.26L133.01 207.84L133.33 208.42L133.65 209.01L133.97 209.61L134.29 210.22L134.61 210.83L134.94 211.45L135.26 212.08L135.58 212.71L135.90 213.35L136.22 214.00L136.54 213.35L136.86 212.69L137.19 212.03L137.51 211.37L137.83 210.70L138.15 210.03L138.47 209.36L138.79 208.68L139.12 208.00L139.44 207.33L139.76 206.65L140.08 205.97L140.40 205.29L140.72 204.61L141.05 203.93L141.37 203.25L141.69 202.58L142.01 201.91L142.33 201.24L142.65 200.57L142.98 199.91L143.30 199.25L143.62 198.60L143.94 197.95L144.26 197.31L144.58 196.68L144.90 196.05L145.23 195.43L145.55 194.81L145.87 194.21L146.19 193.61L146.51 193.02L146.83 192.44L147.16 191.88L147.48 191.32L147.80 190.77L148.12 190.23L148.44 189.71L148.76 189.20L149.09 188.70L149.41 188.21L149.73 187.74L150.05 187.28L150.37 186.84L150.69 186.41L151.02 186.00L151.34 185.60L151.66 185.21L151.98 184.85L152.30 184.50L152.62 184.16L152.94 183.85L153.27 183.55L153.59 183.27L153.91 183.00L154.23 182.76L154.55 182.53L154.87 182.33L155.20 182.14L155.52 181.97L155.84 181.82L156.16 181.69L156.48 181.59L156.80 181.50L157.13 181.43L157.45 181.38L157.77 181.36L158.09 181.35L158.41 181.37L158.73 181.41L159.06 181.47L159.38 181.55L159.70 181.65L160.02 181.77L160.34 181.92L160.66 182.08L160.98 182.27L161.31 182.48L161.63 182.71L161.95 182.97L162.27 183.24L162.59 183.54L162.91 183.86L163.24 184.20L163.56 184.56L163.88 184.94L164.20 185.34L164.52 185.77L164.84 186.21L165.17 186.68L165.49 187.16L165.81 187.67L166.13 188.19L166.45 188.74L166.77 189.30L167.10 189.89L167.42 190.49L167.74 191.11L168.06 191.75L168.38 192.41L168.70 193.09L169.02 193.78L169.35 194.49L169.67 195.21L169.99 195.96L170.31 196.72L170.63 197.49L170.95 198.28L171.28 199.08L171.60 199.90L171.92 200.73L172.24 201.58L172.56 202.43L172.88 203.30L173.21 204.18L173.53 205.08L173.85 205.98L174.17 206.89L174.49 207.81L174.81 208.74L175.14 209.68L175.46 210.63L175.78 211.59L176.10 212.55L176.42 213.51L176.58 214.00L176.74 213.51L177.06 212.54L177.39 211.55L177.71 210.57L178.03 209.58L178.35 208.59L178.67 207.60L178.99 206.60L179.32 205.61L179.64 204.61L179.96 203.62L180.28 202.63L180.60 201.64L180.92 200.65L181.25 199.67L181.57 198.69L181.89 197.72L182.21 196.75L182.53 195.78L182.85 194.83L183.18 193.88L183.50 192.94L183.82 192.01L184.14 191.09L184.46 190.17L184.78 189.27L185.10 188.38L185.43 187.50L185.75 186.64L186.07 185.79L186.39 184.95L186.71 184.12L187.03 183.32L187.36 182.52L187.68 181.75L188.00 180.99L188.32 180.24L188.64 179.52L188.96 178.81L189.29 178.13L189.61 177.46L189.93 176.81L190.25 176.19L190.57 175.58L190.89 175.00L191.22 174.44L191.54 173.90L191.86 173.38L192.18 172.89L192.50 172.42L192.82 171.98L193.14 171.56L193.47 171.16L193.79 170.80L194.11 170.45L194.43 170.14L194.75 169.85L195.07 169.58L195.40 169.35L195.72 169.14L196.04 168.96L196.36 168.81L196.68 168.68L197.00 168.59L197.33 168.52L197.65 168.48L197.97 168.47L198.29 168.49L198.61 168.54L198.93 168.61L199.26 168.72L199.58 168.86L199.90 169.02L200.22 169.22L200.54 169.44L200.86 169.70L201.18 169.98L201.51 170.29L201.83 170.63L202.15 171.00L202.47 171.40L202.79 171.83L203.11 172.29L203.44 172.78L203.76 173.29L204.08 173.83L204.40 174.40L204.72 175.00L205.04 175.63L205.37 176.28L205.69 176.96L206.01 177.67L206.33 178.40L206.65 179.16L206.97 179.94L207.30 180.75L207.62 181.59L207.94 182.44L208.26 183.32L208.58 184.23L208.90 185.16L209.22 186.11L209.55 187.08L209.87 188.07L210.19 189.08L210.51 190.12L210.83 191.17L211.15 192.24L211.48 193.33L211.80 194.44L212.12 195.56L212.44 196.70L212.76 197.86L213.08 199.03L213.41 200.22L213.73 201.42L214.05 202.63L214.37 203.86L214.69 205.09L215.01 206.34L215.34 207.60L215.66 208.86L215.98 210.14L216.30 211.42L216.62 212.71L216.94 214.00L217.26 212.70L217.59 211.40L217.91 210.09L218.23 208.78L218.55 207.47L218.87 206.15L219.19 204.84L219.52 203.53L219.84 202.22L220.16 200.91L220.48 199.60L220.80 198.30L221.12 197.00L221.45 195.71L221.77 194.43L222.09 193.15L222.41 191.88L222.73 190.62L223.05 189.37L223.38 188.13L223.70 186.91L224.02 185.69L224.34 184.49L224.66 183.30L224.98 182.13L225.30 180.98L225.63 179.84L225.95 178.71L226.27 177.61L226.59 176.53L226.91 175.46L227.23 174.42L227.56 173.39L227.88 172.39L228.20 171.41L228.52 170.45L228.84 169.52L229.16 168.62L229.49 167.73L229.81 166.88L230.13 166.05L230.45 165.25L230.77 164.48L231.09 163.73L231.42 163.02L231.74 162.33L232.06 161.67L232.38 161.05L232.70 160.46L233.02 159.89L233.34 159.36L233.67 158.87L233.99 158.40L234.31 157.97L234.63 157.58L234.95 157.22L235.27 156.89L235.60 156.60L235.92 156.34L236.24 156.12L236.56 155.94L236.88 155.79L237.20 155.68L237.53 155.60L237.85 155.56L238.17 155.56L238.49 155.59L238.81 155.67L239.13 155.77L239.46 155.92L239.78 156.11L240.10 156.33L240.42 156.59L240.74 156.88L241.06 157.21L241.38 157.58L241.71 157.99L242.03 158.44L242.35 158.92L242.67 159.43L242.99 159.99L243.31 160.58L243.64 161.20L243.96 161.87L244.28 162.56L244.60 163.29L244.92 164.06L245.24 164.86L245.57 165.69L245.89 166.56L246.21 167.46L246.53 168.40L246.85 169.36L247.17 170.36L247.50 171.39L247.82 172.44L248.14 173.53L248.46 174.65L248.78 175.80L249.10 176.97L249.42 178.17L249.75 179.40L250.07 180.65L250.39 181.93L250.71 183.24L251.03 184.56L251.35 185.92L251.68 187.29L252.00 188.68L252.32 190.10L252.64 191.53L252.96 192.99L253.28 194.46L253.61 195.95L253.93 197.45L254.25 198.97L254.57 200.51L254.89 202.05L255.21 203.62L255.54 205.19L255.86 206.77L256.18 208.36L256.50 209.96L256.82 211.57L257.14 213.19L257.30 214.00L257.46 213.19L257.79 211.56L258.11 209.93L258.43 208.30L258.75 206.67L259.07 205.03L259.39 203.40L259.72 201.77L260.04 200.14L260.36 198.51L260.68 196.89L261.00 195.27L261.32 193.66L261.65 192.06L261.97 190.47L262.29 188.89L262.61 187.31L262.93 185.76L263.25 184.21L263.58 182.68L263.90 181.16L264.22 179.66L264.54 178.17L264.86 176.71L265.18 175.26L265.50 173.83L265.83 172.43L266.15 171.04L266.47 169.68L266.79 168.34L267.11 167.03L267.43 165.75L267.76 164.49L268.08 163.25L268.40 162.05L268.72 160.87L269.04 159.73L269.36 158.61L269.69 157.53L270.01 156.48L270.33 155.46L270.65 154.48L270.97 153.53L271.29 152.62L271.62 151.74L271.94 150.90L272.26 150.10L272.58 149.33L272.90 148.61L273.22 147.92L273.54 147.27L273.87 146.67L274.19 146.10L274.51 145.58L274.83 145.09L275.15 144.65L275.47 144.25L275.80 143.90L276.12 143.58L276.44 143.31L276.76 143.09L277.08 142.91L277.40 142.77L277.73 142.68L278.05 142.63L278.37 142.63L278.69 142.67L279.01 142.76L279.33 142.89L279.66 143.07L279.98 143.30L280.30 143.57L280.62 143.88L280.94 144.24L281.26 144.64L281.58 145.09L281.91 145.59L282.23 146.13L282.55 146.71L282.87 147.34L283.19 148.01L283.51 148.72L283.84 149.48L284.16 150.28L284.48 151.13L284.80 152.01L285.12 152.94L285.44 153.91L285.77 154.92L286.09 155.97L286.41 157.06L286.73 158.18L287.05 159.35L287.37 160.55L287.70 161.79L288.02 163.07L288.34 164.38L288.66 165.73L288.98 167.11L289.30 168.53L289.62 169.98L289.95 171.46L290.27 172.97L290.59 174.51L290.91 176.08L291.23 177.68L291.55 179.30L291.88 180.96L292.20 182.63L292.52 184.34L292.84 186.06L293.16 187.81L293.48 189.58L293.81 191.37L294.13 193.17L294.45 195.00L294.77 196.84L295.09 198.70L295.41 200.57L295.74 202.46L296.06 204.36L296.38 206.27L296.70 208.19L297.02 210.12L297.34 212.06L297.66 214.00L297.99 212.05L298.31 210.10L298.63 208.14L298.95 206.19L299.27 204.23L299.59 202.28L299.92 200.32L300.24 198.37L300.56 196.43L300.88 194.49L301.20 192.56L301.52 190.63L301.85 188.72L302.17 186.82L302.49 184.93L302.81 183.05L303.13 181.19L303.45 179.34L303.78 177.51L304.10 175.70L304.42 173.91L304.74 172.13L305.06 170.38L305.38 168.66L305.70 166.96L306.03 165.28L306.35 163.63L306.67 162.00L306.99 160.41L307.31 158.85L307.63 157.31L307.96 155.81L308.28 154.34L308.60 152.90L308.92 151.50L309.24 150.14L309.56 148.81L309.89 147.52L310.21 146.27L310.53 145.06L310.85 143.89L311.17 142.76L311.49 141.67L311.82 140.62L312.14 139.62L312.46 138.66L312.78 137.75L313.10 136.88L313.42 136.06L313.74 135.29L314.07 134.57L314.39 133.89L314.71 133.26L315.03 132.68L315.35 132.15L315.67 131.68L316.00 131.25L316.32 130.87L316.64 130.54L316.96 130.27L317.28 130.05L317.60 129.88L317.93 129.76L318.25 129.70L318.57 129.69L318.89 129.73L319.21 129.83L319.53 129.98L319.86 130.18L320.18 130.44L320.50 130.74L320.82 131.11L321.14 131.52L321.46 131.99L321.78 132.51L322.11 133.09L322.43 133.71L322.75 134.39L323.07 135.12L323.39 135.90L323.71 136.73L324.04 137.62L324.36 138.55L324.68 139.53L325.00 140.57L325.32 141.65L325.64 142.78L325.97 143.96L326.29 145.18L326.61 146.45L326.93 147.77L327.25 149.13L327.57 150.53L327.90 151.98L328.22 153.47L328.54 155.00L328.86 156.58L329.18 158.19L329.50 159.84L329.82 161.53L330.15 163.26L330.47 165.02L330.79 166.82L331.11 168.65L331.43 170.52L331.75 172.41L332.08 174.34L332.40 176.30L332.72 178.28L333.04 180.29L333.36 182.33L333.68 184.39L334.01 186.48L334.33 188.59L334.65 190.72L334.97 192.87L335.29 195.03L335.61 197.22L335.94 199.42L336.26 201.63L336.58 203.86L336.90 206.10L337.22 208.34L337.54 210.60L337.86 212.87L338.03 214.00L338.19 212.86L338.51 210.59L338.83 208.31L339.15 206.03L339.47 203.75L339.79 201.48L340.12 199.20L340.44 196.93L340.76 194.66L341.08 192.40L341.40 190.15L341.72 187.91L342.05 185.69L342.37 183.47L342.69 181.27L343.01 179.08L343.33 176.91L343.65 174.76L343.98 172.63L344.30 170.52L344.62 168.44L344.94 166.38L345.26 164.34L345.58 162.33L345.90 160.35L346.23 158.39L346.55 156.47L346.87 154.58L347.19 152.72L347.51 150.90L347.83 149.12L348.16 147.37L348.48 145.65L348.80 143.98L349.12 142.35L349.44 140.76L349.76 139.21L350.09 137.71L350.41 136.25L350.73 134.84L351.05 133.47L351.37 132.15L351.69 130.88L352.02 129.66L352.34 128.49L352.66 127.37L352.98 126.30L353.30 125.29L353.62 124.33L353.94 123.42L354.27 122.57L354.59 121.78L354.91 121.04L355.23 120.36L355.55 119.73L355.87 119.17L356.20 118.66L356.52 118.21L356.84 117.82L357.16 117.49L357.48 117.22L357.80 117.01L358.13 116.86L358.45 116.77L358.77 116.75L359.09 116.78L359.41 116.88L359.73 117.03L360.06 117.25L360.38 117.53L360.70 117.87L361.02 118.27L361.34 118.74L361.66 119.26L361.98 119.85L362.31 120.49L362.63 121.20L362.95 121.96L363.27 122.79L363.59 123.67L363.91 124.61L364.24 125.61L364.56 126.67L364.88 127.79L365.20 128.96L365.52 130.19L365.84 131.47L366.17 132.81L366.49 134.21L366.81 135.65L367.13 137.15L367.45 138.70L367.77 140.30L368.10 141.95L368.42 143.64L368.74 145.39L369.06 147.18L369.38 149.02L369.70 150.91L370.02 152.83L370.35 154.80L370.67 156.81L370.99 158.86L371.31 160.95L371.63 163.08L371.95 165.24L372.28 167.44L372.60 169.67L372.92 171.94L373.24 174.23L373.56 176.56L373.88 178.91L374.21 181.29L374.53 183.70L374.85 186.13L375.17 188.58L375.49 191.05L375.81 193.55L376.14 196.06L376.46 198.58L376.78 201.13L377.10 203.68L377.42 206.25L377.74 208.82L378.06 211.41L378.39 214.00L378.71 211.40L379.03 208.80L379.35 206.20L379.67 203.60L379.99 201.00L380.32 198.40L380.64 195.81L380.96 193.22L381.28 190.64L381.60 188.07L381.92 185.51L382.25 182.97L382.57 180.43L382.89 177.92L383.21 175.42L383.53 172.95L383.85 170.49L384.18 168.05L384.50 165.64L384.82 163.26L385.14 160.90L385.46 158.57L385.78 156.28L386.10 154.01L386.43 151.78L386.75 149.58L387.07 147.42L387.39 145.29L387.71 143.21L388.03 141.16L388.36 139.16L388.68 137.20L389.00 135.29L389.32 133.42L389.64 131.60L389.96 129.82L390.29 128.10L390.61 126.43L390.93 124.80L391.25 123.24L391.57 121.72L391.89 120.26L392.22 118.86L392.54 117.51L392.86 116.23L393.18 115.00L393.50 113.83L393.82 112.72L394.14 111.67L394.47 110.69L394.79 109.77L395.11 108.91L395.43 108.12L395.75 107.39L396.07 106.73L396.40 106.13L396.72 105.60L397.04 105.14L397.36 104.75L397.68 104.42L398.00 104.16L398.33 103.97L398.65 103.85L398.97 103.80L399.29 103.82L399.61 103.91L399.93 104.06L400.26 104.29L400.58 104.59L400.90 104.95L401.22 105.38L401.54 105.89L401.86 106.46L402.18 107.10L402.51 107.81L402.83 108.59L403.15 109.43L403.47 110.34L403.79 111.32L404.11 112.37L404.44 113.48L404.76 114.66L405.08 115.90L405.40 117.20L405.72 118.57L406.04 120.00L406.37 121.50L406.69 123.05L407.01 124.66L407.33 126.34L407.65 128.07L407.97 129.86L408.30 131.70L408.62 133.60L408.94 135.55L409.26 137.56L409.58 139.62L409.90 141.73L410.22 143.89L410.55 146.09L410.87 148.34L411.19 150.64L411.51 152.98L411.83 155.37L412.15 157.80L412.48 160.26L412.80 162.76L413.12 165.31L413.44 167.88L413.76 170.49L414.08 173.13L414.41 175.80L414.73 178.50L415.05 181.23L415.37 183.99L415.69 186.76L416.01 189.56L416.34 192.38L416.66 195.22L416.98 198.08L417.30 200.95L417.62 203.83L417.94 206.72L418.26 209.63L418.59 212.54L418.75 214.00L418.91 212.54L419.23 209.62L419.55 206.69L419.87 203.77L420.19 200.84L420.52 197.92L420.84 195.00L421.16 192.09L421.48 189.19L421.80 186.30L422.12 183.42L422.45 180.56L422.77 177.71L423.09 174.88L423.41 172.07L423.73 169.28L424.05 166.51L424.38 163.77L424.70 161.06L425.02 158.37L425.34 155.72L425.66 153.09L425.98 150.50L426.30 147.95L426.63 145.43L426.95 142.95L427.27 140.52L427.59 138.12L427.91 135.77L428.23 133.46L428.56 131.20L428.88 128.99L429.20 126.82L429.52 124.71L429.84 122.65L430.16 120.65L430.49 118.70L430.81 116.80L431.13 114.97L431.45 113.19L431.77 111.47L432.09 109.82L432.42 108.23L432.74 106.70L433.06 105.23L433.38 103.84L433.70 102.51L434.02 101.24L434.34 100.05L434.67 98.92L434.99 97.87L435.31 96.89L435.63 95.97L435.95 95.14L436.27 94.37L436.60 93.68L436.92 93.06L437.24 92.52L437.56 92.05L437.88 91.66L438.20 91.35L438.53 91.11L438.85 90.95L439.17 90.87L439.49 90.86L439.81 90.93L440.13 91.08L440.46 91.30L440.78 91.61L441.10 91.99L441.42 92.45L441.74 92.98L442.06 93.59L442.38 94.28L442.71 95.05L443.03 95.89L443.35 96.80L443.67 97.80L443.99 98.86L444.31 100.00L444.64 101.22L444.96 102.51L445.28 103.87L445.60 105.30L445.92 106.80L446.24 108.37L446.57 110.01L446.89 111.72L447.21 113.49L447.53 115.33L447.85 117.24L448.17 119.21L448.50 121.25L448.82 123.34L449.14 125.50L449.46 127.71L449.78 129.98L450.10 132.31L450.42 134.70L450.75 137.13L451.07 139.62L451.39 142.16L451.71 144.75L452.03 147.39L452.35 150.08L452.68 152.80L453.00 155.58L453.32 158.39L453.64 161.24L453.96 164.13L454.28 167.06L454.61 170.02L454.93 173.01L455.25 176.03L455.57 179.08L455.89 182.16L456.21 185.27L456.54 188.39L456.86 191.54L457.18 194.71L457.50 197.89"/>
<use href="#cv" stroke-width="1.42" mask="url(#mk)"/>
</g>
<path d="M55.5 106.8H457.5" stroke="#000" stroke-width="1.25" stroke-dasharray="2.7 2.2" fill="none"/>
<path d="M192.2 214.0V106.8" stroke="#000" stroke-width="1.4" stroke-dasharray="4 1.8 1.2 1.8" fill="none"/>
<path d="M235.8 214.0V106.8" stroke="#000" stroke-width="1.4" stroke-dasharray="4 1.8 1.2 1.8" fill="none"/>
<path d="M312.1 214.0V106.8" stroke="#000" stroke-width="1.4" stroke-dasharray="4 1.8 1.2 1.8" fill="none"/>
<path d="M353.5 214.0V106.8" stroke="#000" stroke-width="1.4" stroke-dasharray="4 1.8 1.2 1.8" fill="none"/>
<path d="M395.3 214.0V106.8" stroke="#000" stroke-width="1.4" stroke-dasharray="4 1.8 1.2 1.8" fill="none"/>
<g>
<circle cx="80.8" cy="200.3" r="2.38" fill="#000"/>
<circle cx="118.6" cy="177.6" r="3.40" fill="#000"/>
<circle cx="158.4" cy="154.1" r="3.40" fill="#000"/>
<circle cx="197.8" cy="130.5" r="3.40" fill="#000"/>
<circle cx="242.4" cy="112.0" r="3.40" fill="#000"/>
<circle cx="278.2" cy="83.1" r="3.40" fill="#000"/>
<circle cx="318.8" cy="59.3" r="3.40" fill="#000"/>
<circle cx="358.6" cy="35.7" r="3.40" fill="#000"/>
<circle cx="398.8" cy="12.0" r="3.40" fill="#000"/>
<circle cx="80.8" cy="203.3" r="2.20" fill="none" stroke="#000" stroke-width="0.85"/>
<circle cx="118.6" cy="185.4" r="3.15" fill="none" stroke="#000" stroke-width="0.85"/>
<circle cx="158.4" cy="167.0" r="3.15" fill="none" stroke="#000" stroke-width="0.85"/>
<circle cx="197.8" cy="148.5" r="3.15" fill="none" stroke="#000" stroke-width="0.85"/>
<circle cx="238.0" cy="129.9" r="3.15" fill="none" stroke="#000" stroke-width="0.85"/>
<circle cx="278.2" cy="111.2" r="3.15" fill="none" stroke="#000" stroke-width="0.85"/>
<circle cx="318.8" cy="92.5" r="3.15" fill="none" stroke="#000" stroke-width="0.85"/>
<circle cx="358.6" cy="74.0" r="3.15" fill="none" stroke="#000" stroke-width="0.85"/>
<circle cx="398.8" cy="55.4" r="3.15" fill="none" stroke="#000" stroke-width="0.85"/>
<circle cx="439.8" cy="36.6" r="3.15" fill="none" stroke="#000" stroke-width="0.85"/>
<path d="M80.8 202.4l2.52 4.41h-5.04z" fill="#000"/>
<path d="M118.6 186.5l3.60 6.30h-7.20z" fill="#000"/>
<path d="M158.4 171.2l3.60 6.30h-7.20z" fill="#000"/>
<path d="M197.8 155.8l3.60 6.30h-7.20z" fill="#000"/>
<path d="M238.0 140.4l3.60 6.30h-7.20z" fill="#000"/>
<path d="M278.2 125.0l3.60 6.30h-7.20z" fill="#000"/>
<path d="M318.8 109.5l3.60 6.30h-7.20z" fill="#000"/>
<path d="M358.6 94.1l3.60 6.30h-7.20z" fill="#000"/>
<path d="M398.8 78.7l3.60 6.30h-7.20z" fill="#000"/>
<path d="M439.8 63.0l3.60 6.30h-7.20z" fill="#000"/>
<rect x="78.55" y="204.26" width="4.55" height="4.55" fill="#000"/>
<rect x="115.36" y="190.91" width="6.50" height="6.50" fill="#000"/>
<rect x="155.16" y="178.10" width="6.50" height="6.50" fill="#000"/>
<rect x="194.56" y="165.26" width="6.50" height="6.50" fill="#000"/>
<rect x="234.76" y="152.34" width="6.50" height="6.50" fill="#000"/>
<rect x="274.96" y="139.41" width="6.50" height="6.50" fill="#000"/>
<rect x="315.56" y="126.44" width="6.50" height="6.50" fill="#000"/>
<rect x="355.36" y="113.58" width="6.50" height="6.50" fill="#000"/>
<rect x="395.56" y="100.69" width="6.50" height="6.50" fill="#000"/>
<rect x="436.56" y="87.60" width="6.50" height="6.50" fill="#000"/>
</g>
<path d="M463 17.2H489.4" stroke="#000" stroke-width="1.2"/>
<text x="493.6" y="20.3" class="lg" textLength="43.9" lengthAdjust="spacingAndGlyphs">m = 1 kg</text>
<path d="M463 31.8H489.4" stroke="#000" stroke-width="1.2"/>
<circle cx="477.0" cy="31.8" r="3.40" fill="#000"/>
<text x="493.6" y="34.9" class="lg" textLength="53.4" lengthAdjust="spacingAndGlyphs">m = 1.4 kg</text>
<path d="M463 46.5H489.4" stroke="#000" stroke-width="1.2"/>
<circle cx="477.0" cy="46.5" r="2.83" fill="#fff" stroke="#000" stroke-width="0.85"/>
<text x="493.6" y="49.6" class="lg" textLength="53.4" lengthAdjust="spacingAndGlyphs">m = 1.8 kg</text>
<path d="M463 61.1H489.4" stroke="#000" stroke-width="1.2"/>
<path d="M477.0 57.3l3.60 6.30h-7.20z" fill="#000"/>
<text x="493.6" y="64.2" class="lg" textLength="53.4" lengthAdjust="spacingAndGlyphs">m = 2.2 kg</text>
<path d="M463 75.7H489.4" stroke="#000" stroke-width="1.2"/>
<rect x="473.75" y="72.45" width="6.50" height="6.50" fill="#000"/>
<text x="493.6" y="78.8" class="lg" textLength="53.4" lengthAdjust="spacingAndGlyphs">m = 2.4 kg</text>
<text x="55.0" y="236" class="tk" text-anchor="middle">0</text>
<text x="135.4" y="236" class="tk" text-anchor="middle">2</text>
<text x="215.8" y="236" class="tk" text-anchor="middle">4</text>
<text x="296.2" y="236" class="tk" text-anchor="middle">6</text>
<text x="376.6" y="236" class="tk" text-anchor="middle">8</text>
<text x="458.5" y="236" class="tk" text-anchor="middle">10</text>
<text x="50" y="221.2" class="tk" text-anchor="end">0</text>
<text x="50" y="180.3" class="tk" text-anchor="end">0.2</text>
<text x="50" y="139.4" class="tk" text-anchor="end">0.4</text>
<text x="50" y="98.5" class="tk" text-anchor="end">0.6</text>
<text x="50" y="57.6" class="tk" text-anchor="end">0.8</text>
<text x="50" y="16.7" class="tk" text-anchor="end">1</text>
<text transform="translate(187.6 228) scale(1.3 1)" class="it" font-size="13.2">t</text>
<text x="192.9" y="231.2" class="sb">1</text>
<text transform="translate(232.9 228) scale(1.3 1)" class="it" font-size="13.2">t</text>
<text x="238.2" y="231.2" class="sb">2</text>
<text transform="translate(308.8 228) scale(1.3 1)" class="it" font-size="13.2">t</text>
<text x="314.1" y="231.2" class="sb">3</text>
<text transform="translate(352.7 228) scale(1.3 1)" class="it" font-size="13.2">t</text>
<text x="358.0" y="231.2" class="sb">4</text>
<text transform="translate(392.9 228) scale(1.3 1)" class="it" font-size="13.2">t</text>
<text x="398.2" y="231.2" class="sb">5</text>
<text x="57.2" y="103.4" class="it" font-size="21">α</text>
<text transform="translate(236.3 257.7) scale(1.12 1)" class="it itb" font-size="16.5" textLength="53.6" lengthAdjust="spacing">Time(s)</text>
<text transform="translate(15.2 147.6) rotate(-90) scale(1.05 1)" class="it itb" font-size="17.5" textLength="49.6" lengthAdjust="spacing">θ(rad)</text>
</svg>
</body></html>
